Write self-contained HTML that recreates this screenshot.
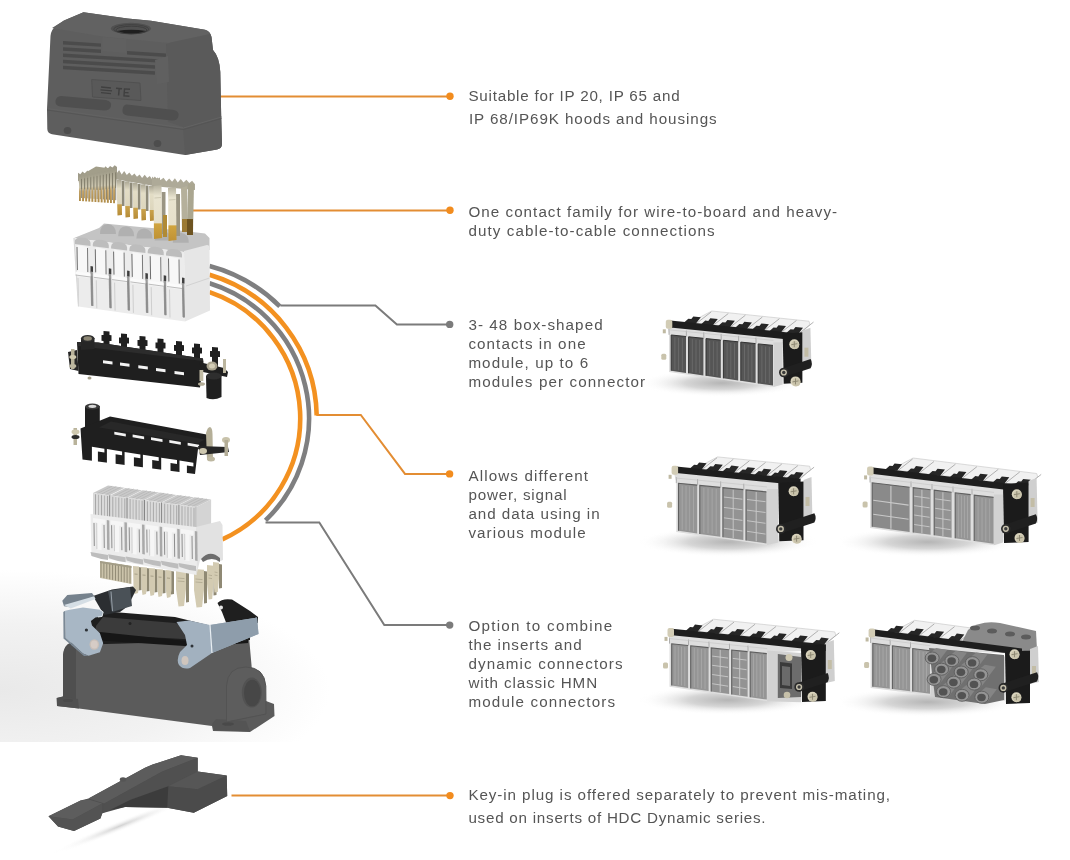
<!DOCTYPE html>
<html><head><meta charset="utf-8">
<style>
html,body{margin:0;padding:0;background:#fff;}
body{width:1070px;height:860px;overflow:hidden;position:relative;}
svg{position:absolute;left:0;top:0;will-change:transform;}
.t{font-family:"Liberation Sans",sans-serif;font-size:15.2px;fill:#555555;}
</style></head><body>
<svg width="1070" height="860" viewBox="0 0 1070 860">
<defs>
<radialGradient id="bgL" cx="0" cy="0" r="1" gradientUnits="userSpaceOnUse" gradientTransform="translate(0 690) scale(330 120)">
<stop offset="0" stop-color="#e9e9e9"/><stop offset="0.55" stop-color="#f2f2f2"/><stop offset="1" stop-color="#ffffff"/>
</radialGradient>
</defs>
<rect x="0" y="560" width="345" height="182" fill="url(#bgL)"/>

<!-- callout lines -->
<g fill="none" stroke-linejoin="miter">
<path d="M219 96.5H450" stroke="#e38d33" stroke-width="2"/>
<path d="M193 210.5H450" stroke="#e38d33" stroke-width="2"/>
<path d="M231.5 795.6H450" stroke="#e38d33" stroke-width="2"/>
<path d="M280.4 305.4H375.4L396.9 324.4H450" stroke="#7b7b7b" stroke-width="2"/>
<path d="M316.3 415H360.8L405 473.9H450" stroke="#e38d33" stroke-width="2"/>
<path d="M265.5 522.4H319.3L384.3 625.1H450" stroke="#7b7b7b" stroke-width="2"/>
</g>
<g>
<circle cx="450" cy="96.3" r="3.7" fill="#f28c1e"/>
<circle cx="450" cy="210.2" r="3.7" fill="#f28c1e"/>
<circle cx="450" cy="795.6" r="3.7" fill="#f28c1e"/>
<circle cx="449.7" cy="324.4" r="3.7" fill="#7b7b7b"/>
<circle cx="449.6" cy="473.9" r="3.7" fill="#f28c1e"/>
<circle cx="449.7" cy="625.1" r="3.7" fill="#7b7b7b"/>
</g>

<!-- arcs -->
<g fill="none" stroke-width="4.6">
<path d="M209.5 266 A158 158 0 0 1 279.8 306.3" stroke="#7f7f80"/>
<path d="M209.5 274.7 A149.7 149.7 0 0 1 316.7 415.5" stroke="#f39120"/>
<path d="M209.5 283.3 A141.4 141.4 0 0 1 265.5 520.4" stroke="#7f7f80"/>
<path d="M209.5 292.1 A133.1 133.1 0 0 1 222.3 539.4" stroke="#f39120"/>
</g>

<g id="hood">
<path d="M83.5 12.2 L127.5 18.5 L151 20.8 L205 29.8 Q210.5 31 211.5 37 L213 50 Q219.5 57 220.3 72 L221.2 116 L222 144 Q222 148.5 217 149.5 L185 155 L52 134.2 Q47.5 133.2 47.3 129 L47 109 L50.5 36 Q51 29.5 56 26 L64 20.5 Z" fill="#5e5e5e"/>
<path d="M166 44 L205 31.5 Q210.5 32 211.5 37 L213 50 Q219.5 57 220.3 72 L221.2 116 L222 144 Q222 148.5 217 149.5 L185 155 L183 127 L168 122 Z" fill="#5a5a5a"/>
<path d="M52 28 L64 20.5 L83.5 12.2 L127.5 18.5 L151 20.8 L205 29.8 Q209 31 210 34 L168 43 L102 36.5 Z" fill="#626262"/>
<path d="M47 108.5 L183.5 128 L221.5 117" fill="none" stroke="#636363" stroke-width="1"/>
<path d="M47 110 L183.5 129.5 L221.5 118.5" fill="none" stroke="#535353" stroke-width="0.8"/>
<ellipse cx="130.9" cy="28.5" rx="20" ry="5.8" fill="#505050"/>
<ellipse cx="131.2" cy="29.2" rx="17.5" ry="4.6" fill="none" stroke="#3f3f3f" stroke-width="0.9"/>
<ellipse cx="131.4" cy="30" rx="15.5" ry="3.8" fill="none" stroke="#3c3c3c" stroke-width="0.9"/>
<path d="M117 31 Q131 36 146 31 Q131 28.5 117 31 Z" fill="#1f1f1f"/>
<g fill="#4b4b4b">
<path d="M63 41.099999999999994 L101 43.4 L101 46.800000000000004 L63 44.5 Z"/>
<path d="M63 47.3 L101 49.599999999999994 L101 53.0 L63 50.7 Z"/>
<path d="M127 51.099999999999994 L166 53.5 L166 56.900000000000006 L127 54.5 Z"/>
<path d="M63 53.5 L166 59.699999999999996 L166 63.1 L63 56.900000000000006 Z"/>
<path d="M63 59.8 L155 65.3 L155 68.7 L63 63.2 Z"/>
<path d="M63 65.8 L155 71.3 L155 74.7 L63 69.2 Z"/>
</g>
<path d="M102.5 37 L126 39 L126.5 53 L102.5 51 Z" fill="#606060"/>
<path d="M155 60 L168 56 L169 82 L157 84 Z" fill="#606060"/>
<path d="M91.7 79.5 L140 83 L141 100.5 L92.5 97 Z" fill="#595959" stroke="#4e4e4e" stroke-width="0.8"/>
<path d="M101 87 L111 88 M100.5 89.8 L112 90.9 M101 92.6 L111 93.6" fill="none" stroke="#404040" stroke-width="1.3"/>
<path d="M116 88.2 L122 88.8 M119.2 88.5 L118.6 95.5" fill="none" stroke="#404040" stroke-width="1.5"/>
<path d="M130 89.3 L124.5 88.9 L124 95.8 L129.5 96.2 M124.3 92.4 L128.5 92.7" fill="none" stroke="#404040" stroke-width="1.4"/>
<path d="M61 96 L106 100 Q112 101.5 111 106 Q110 110.5 104 110.5 L60 106.5 Q55 105.5 55.5 101 Q56 96.5 61 96 Z" fill="#4f4f4f"/>
<path d="M127 104.5 L174 110 Q179.5 111.5 178.5 116 Q177.5 121 171.5 120.5 L127 115.5 Q122 114.5 122.5 110 Q123 104.5 127 104.5 Z" fill="#4f4f4f"/>
<ellipse cx="67.5" cy="130.5" rx="3.8" ry="3.5" fill="#4d4d4d"/>
<ellipse cx="157.5" cy="143.5" rx="3.8" ry="3.5" fill="#4d4d4d"/>
</g>

<g id="insert1">
<path d="M99 228 L104 223.5 L140 227 L176 230 L205 233.5 L209.5 238 L209.5 250 L184 252 L74 238 Z" fill="#c4c4c4"/>
<path d="M100.0 234.0 Q100.0 224.0 108.0 224.0 Q116.0 225.0 116.0 234.0 Z" fill="#b0b0b0"/>
<path d="M118.2 236.2 Q118.2 226.2 126.2 226.2 Q134.2 227.2 134.2 236.2 Z" fill="#b0b0b0"/>
<path d="M136.4 238.4 Q136.4 228.4 144.4 228.4 Q152.4 229.4 152.4 238.4 Z" fill="#b0b0b0"/>
<path d="M154.6 240.6 Q154.6 230.6 162.6 230.6 Q170.6 231.6 170.6 240.6 Z" fill="#b0b0b0"/>
<path d="M172.8 242.8 Q172.8 232.8 180.8 232.8 Q188.8 233.8 188.8 242.8 Z" fill="#b0b0b0"/>
<path d="M184 251 L207 245 Q209.5 245 209.5 248 L210 310.5 L185 321.5 Z" fill="#e6e6e6"/>
<path d="M186 286 L209.5 278" stroke="#d2d2d2" stroke-width="1"/>
<path d="M74 238 L184 252 L185 321.5 L78.5 306.5 Z" fill="#ececec"/>
<path d="M74.5 242.0 Q75.0 237.0 82.0 237.5 Q90.0 238.0 90.5 243.0 L90.5 246.0 L74.5 244.0 Z" fill="#bdbdbd"/>
<path d="M77.5 245.0 L77.8 271.0 L75.5 271.0 L75.7 276.0 L90.0 278.0 L90.0 273.0 L87.0 272.5 L87.0 247.0 Z" fill="#f7f7f7"/>
<path d="M77.0 247.0 L77.4 270.0" stroke="#6e6e6e" stroke-width="1"/>
<path d="M87.5 248.0 L87.8 272.0" stroke="#7a7a7a" stroke-width="1"/>
<path d="M90.3 271.0 L92.8 271.5 L93.5 306.0 L91.0 305.5 Z" fill="#9a9a9a"/>
<path d="M90.5 266.0 L93.0 266.5 L93.0 272.0 L90.5 271.5 Z" fill="#3f3f3f"/>
<path d="M78.0 278.0 L78.5 306.0" stroke="#cfcfcf" stroke-width="1"/>
<path d="M92.8 244.3 Q93.3 239.3 100.3 239.8 Q108.3 240.3 108.8 245.3 L108.8 248.3 L92.8 246.3 Z" fill="#bdbdbd"/>
<path d="M95.8 247.3 L96.1 273.3 L93.8 273.3 L94.0 278.3 L108.3 280.3 L108.3 275.3 L105.3 274.8 L105.3 249.3 Z" fill="#f7f7f7"/>
<path d="M95.3 249.3 L95.7 272.3" stroke="#6e6e6e" stroke-width="1"/>
<path d="M105.8 250.3 L106.1 274.3" stroke="#7a7a7a" stroke-width="1"/>
<path d="M108.6 273.3 L111.1 273.8 L111.8 308.3 L109.3 307.8 Z" fill="#9a9a9a"/>
<path d="M108.8 268.3 L111.3 268.8 L111.3 274.3 L108.8 273.8 Z" fill="#3f3f3f"/>
<path d="M96.3 280.3 L96.8 308.3" stroke="#cfcfcf" stroke-width="1"/>
<path d="M111.1 246.6 Q111.6 241.6 118.6 242.1 Q126.6 242.6 127.1 247.6 L127.1 250.6 L111.1 248.6 Z" fill="#bdbdbd"/>
<path d="M114.1 249.6 L114.39999999999999 275.6 L112.1 275.6 L112.3 280.6 L126.6 282.6 L126.6 277.6 L123.6 277.1 L123.6 251.6 Z" fill="#f7f7f7"/>
<path d="M113.6 251.6 L114.0 274.6" stroke="#6e6e6e" stroke-width="1"/>
<path d="M124.1 252.6 L124.39999999999999 276.6" stroke="#7a7a7a" stroke-width="1"/>
<path d="M126.89999999999999 275.6 L129.4 276.1 L130.1 310.6 L127.6 310.1 Z" fill="#9a9a9a"/>
<path d="M127.1 270.6 L129.6 271.1 L129.6 276.6 L127.1 276.1 Z" fill="#3f3f3f"/>
<path d="M114.6 282.6 L115.1 310.6" stroke="#cfcfcf" stroke-width="1"/>
<path d="M129.4 248.9 Q129.9 243.9 136.9 244.4 Q144.9 244.9 145.4 249.9 L145.4 252.9 L129.4 250.9 Z" fill="#bdbdbd"/>
<path d="M132.4 251.9 L132.70000000000002 277.9 L130.4 277.9 L130.6 282.9 L144.9 284.9 L144.9 279.9 L141.9 279.4 L141.9 253.9 Z" fill="#f7f7f7"/>
<path d="M131.9 253.9 L132.3 276.9" stroke="#6e6e6e" stroke-width="1"/>
<path d="M142.4 254.9 L142.70000000000002 278.9" stroke="#7a7a7a" stroke-width="1"/>
<path d="M145.20000000000002 277.9 L147.70000000000002 278.4 L148.4 312.9 L145.9 312.4 Z" fill="#9a9a9a"/>
<path d="M145.4 272.9 L147.9 273.4 L147.9 278.9 L145.4 278.4 Z" fill="#3f3f3f"/>
<path d="M132.9 284.9 L133.4 312.9" stroke="#cfcfcf" stroke-width="1"/>
<path d="M147.7 251.2 Q148.2 246.2 155.2 246.7 Q163.2 247.2 163.7 252.2 L163.7 255.2 L147.7 253.2 Z" fill="#bdbdbd"/>
<path d="M150.7 254.2 L151.0 280.2 L148.7 280.2 L148.89999999999998 285.2 L163.2 287.2 L163.2 282.2 L160.2 281.7 L160.2 256.2 Z" fill="#f7f7f7"/>
<path d="M150.2 256.2 L150.6 279.2" stroke="#6e6e6e" stroke-width="1"/>
<path d="M160.7 257.2 L161.0 281.2" stroke="#7a7a7a" stroke-width="1"/>
<path d="M163.5 280.2 L166.0 280.7 L166.7 315.2 L164.2 314.7 Z" fill="#9a9a9a"/>
<path d="M163.7 275.2 L166.2 275.7 L166.2 281.2 L163.7 280.7 Z" fill="#3f3f3f"/>
<path d="M151.2 287.2 L151.7 315.2" stroke="#cfcfcf" stroke-width="1"/>
<path d="M166.0 253.5 Q166.5 248.5 173.5 249.0 Q181.5 249.5 182.0 254.5 L182.0 257.5 L166.0 255.5 Z" fill="#bdbdbd"/>
<path d="M169.0 256.5 L169.3 282.5 L167.0 282.5 L167.2 287.5 L181.5 289.5 L181.5 284.5 L178.5 284.0 L178.5 258.5 Z" fill="#f7f7f7"/>
<path d="M168.5 258.5 L168.9 281.5" stroke="#6e6e6e" stroke-width="1"/>
<path d="M179.0 259.5 L179.3 283.5" stroke="#7a7a7a" stroke-width="1"/>
<path d="M181.8 282.5 L184.3 283.0 L185.0 317.5 L182.5 317.0 Z" fill="#9a9a9a"/>
<path d="M182.0 277.5 L184.5 278.0 L184.5 283.5 L182.0 283.0 Z" fill="#3f3f3f"/>
<path d="M169.5 289.5 L170.0 317.5" stroke="#cfcfcf" stroke-width="1"/>
<path d="M74 238 L78.5 306.5" stroke="#d9d9d9" stroke-width="1.2"/>
<path d="M75.5 271.5 L90.5 273.5 L90.5 276.5 L75.5 274.5 Z" fill="#fbfbfb"/>
<path d="M75.5 275.0 L90.5 277.0" stroke="#b5b5b5" stroke-width="0.9"/>
<path d="M91.6 276.0 L92.2 306.0" stroke="#8c8c8c" stroke-width="1.4"/>
<path d="M93.8 273.8 L108.8 275.8 L108.8 278.8 L93.8 276.8 Z" fill="#fbfbfb"/>
<path d="M93.8 277.3 L108.8 279.3" stroke="#b5b5b5" stroke-width="0.9"/>
<path d="M109.9 278.3 L110.5 308.3" stroke="#8c8c8c" stroke-width="1.4"/>
<path d="M112.1 276.1 L127.1 278.1 L127.1 281.1 L112.1 279.1 Z" fill="#fbfbfb"/>
<path d="M112.1 279.6 L127.1 281.6" stroke="#b5b5b5" stroke-width="0.9"/>
<path d="M128.2 280.6 L128.79999999999998 310.6" stroke="#8c8c8c" stroke-width="1.4"/>
<path d="M130.4 278.4 L145.4 280.4 L145.4 283.4 L130.4 281.4 Z" fill="#fbfbfb"/>
<path d="M130.4 281.9 L145.4 283.9" stroke="#b5b5b5" stroke-width="0.9"/>
<path d="M146.5 282.9 L147.1 312.9" stroke="#8c8c8c" stroke-width="1.4"/>
<path d="M148.7 280.7 L163.7 282.7 L163.7 285.7 L148.7 283.7 Z" fill="#fbfbfb"/>
<path d="M148.7 284.2 L163.7 286.2" stroke="#b5b5b5" stroke-width="0.9"/>
<path d="M164.79999999999998 285.2 L165.39999999999998 315.2" stroke="#8c8c8c" stroke-width="1.4"/>
<path d="M167.0 283.0 L182.0 285.0 L182.0 288.0 L167.0 286.0 Z" fill="#fbfbfb"/>
<path d="M167.0 286.5 L182.0 288.5" stroke="#b5b5b5" stroke-width="0.9"/>
<path d="M183.1 287.5 L183.7 317.5" stroke="#8c8c8c" stroke-width="1.4"/>
</g>
<g id="contacts1">
<defs>
<linearGradient id="pinS" x1="0" y1="0" x2="0" y2="1"><stop offset="0" stop-color="#9f9b88"/><stop offset="0.45" stop-color="#cdc7b0"/><stop offset="0.62" stop-color="#c0a064"/><stop offset="1" stop-color="#b08c48"/></linearGradient>
<linearGradient id="pinM" x1="0" y1="0" x2="0" y2="1"><stop offset="0" stop-color="#a9a593"/><stop offset="0.25" stop-color="#e3ddc6"/><stop offset="0.68" stop-color="#ddd6bd"/><stop offset="0.7" stop-color="#c9a14a"/><stop offset="1" stop-color="#b68c38"/></linearGradient>
<linearGradient id="pinL" x1="0" y1="0" x2="0" y2="1"><stop offset="0" stop-color="#b5b19e"/><stop offset="0.2" stop-color="#e9e4d0"/><stop offset="0.7" stop-color="#e6e0cb"/><stop offset="0.72" stop-color="#d0a43f"/><stop offset="1" stop-color="#bf9235"/></linearGradient>
</defs>
<path d="M114.0 169.6 L116.6 173.5 L119.1 170.1 L121.7 174.5 L124.2 171.1 L126.8 175.0 L129.3 172.6 L131.9 175.8 L134.4 173.5 L137.0 176.7 L139.6 174.4 L142.1 178.0 L144.7 174.8 L147.2 178.0 L149.8 176.1 L152.3 179.6 L154.9 176.4 L157.4 179.7 L160.0 177.3 L160.0 187.0 L114.0 179.0 Z" fill="#a7a392"/>
<path d="M152.0 176.5 L154.9 179.3 L157.7 177.5 L160.6 180.0 L163.5 177.7 L166.3 181.4 L169.2 178.5 L172.1 181.7 L174.9 178.2 L177.8 182.4 L180.7 179.0 L183.5 182.4 L186.4 179.8 L189.3 183.1 L192.1 180.7 L195.0 184.2 L195.0 190.0 L152.0 186.0 Z" fill="#aeaa98"/>
<path d="M78.0 172.8 L80.3 174.3 L82.6 171.5 L84.9 173.8 L87.2 170.4 L89.5 172.7 L91.8 169.8 L94.1 171.4 L96.4 168.4 L98.6 171.1 L100.9 167.6 L103.2 169.8 L105.5 166.3 L107.8 168.6 L110.1 166.1 L112.4 167.4 L114.7 165.3 L117.0 167.1 L117.0 173.0 L78.0 181.0 Z" fill="#9f9b89"/>
<path d="M78 177 L96 166.5 L117 169.5 L116 188 L100 190 L80 189 Z" fill="#a29e8a"/>
<rect x="79.0" y="176.0" width="1.9" height="25.0" fill="url(#pinS)"/>
<rect x="81.2" y="179.0" width="0.9" height="19.0" fill="#7c7866"/>
<rect x="82.1" y="175.4" width="1.9" height="25.8" fill="url(#pinS)"/>
<rect x="84.3" y="178.4" width="0.9" height="19.8" fill="#7c7866"/>
<rect x="85.2" y="174.8" width="1.9" height="26.6" fill="url(#pinS)"/>
<rect x="87.4" y="177.8" width="0.9" height="20.6" fill="#7c7866"/>
<rect x="88.3" y="174.2" width="1.9" height="27.4" fill="url(#pinS)"/>
<rect x="90.5" y="177.2" width="0.9" height="21.4" fill="#7c7866"/>
<rect x="91.4" y="173.6" width="1.9" height="28.2" fill="url(#pinS)"/>
<rect x="93.6" y="176.6" width="0.9" height="22.2" fill="#7c7866"/>
<rect x="94.5" y="173.0" width="1.9" height="29.0" fill="url(#pinS)"/>
<rect x="96.7" y="176.0" width="0.9" height="23.0" fill="#7c7866"/>
<rect x="97.6" y="172.4" width="1.9" height="29.8" fill="url(#pinS)"/>
<rect x="99.8" y="175.4" width="0.9" height="23.8" fill="#7c7866"/>
<rect x="100.7" y="171.8" width="1.9" height="30.6" fill="url(#pinS)"/>
<rect x="102.9" y="174.8" width="0.9" height="24.6" fill="#7c7866"/>
<rect x="103.8" y="171.2" width="1.9" height="31.4" fill="url(#pinS)"/>
<rect x="106.0" y="174.2" width="0.9" height="25.4" fill="#7c7866"/>
<rect x="106.9" y="170.6" width="1.9" height="32.2" fill="url(#pinS)"/>
<rect x="109.1" y="173.6" width="0.9" height="26.2" fill="#7c7866"/>
<rect x="110.0" y="170.0" width="1.9" height="33.0" fill="url(#pinS)"/>
<rect x="112.2" y="173.0" width="0.9" height="27.0" fill="#7c7866"/>
<rect x="113.1" y="169.4" width="1.9" height="33.8" fill="url(#pinS)"/>
<rect x="115.3" y="172.4" width="0.9" height="27.8" fill="#7c7866"/>
<rect x="121.5" y="181" width="3" height="25" fill="#8f8b7a"/>
<path d="M116.5 180 L121.5 179.5 L122 215 L117.5 215.5 Z" fill="url(#pinM)"/>
<rect x="129.5" y="182.5" width="3" height="25.5" fill="#8f8b7a"/>
<path d="M124.5 181.5 L129.5 181.0 L130 217 L125.5 217.5 Z" fill="url(#pinM)"/>
<rect x="137.5" y="184" width="3" height="25.5" fill="#8f8b7a"/>
<path d="M132.5 183 L137.5 182.5 L138 218.5 L133.5 219.0 Z" fill="url(#pinM)"/>
<rect x="145.5" y="185.5" width="3" height="25.5" fill="#8f8b7a"/>
<path d="M140.5 184.5 L145.5 184.0 L146 220 L141.5 220.5 Z" fill="url(#pinM)"/>
<rect x="154.0" y="187" width="3" height="24.5" fill="#8f8b7a"/>
<path d="M149.0 186 L154.0 185.5 L154.5 220.5 L150.0 221.0 Z" fill="url(#pinM)"/>
<path d="M181 188 L187 186 L188 230 L182 232 Z" fill="#b5b09b"/>
<rect x="182" y="219" width="6" height="13" fill="#9c7a33"/>
<path d="M188 184 L194 183 L193 234 L187 235 Z" fill="#aaa690"/>
<rect x="187" y="219" width="6" height="16" fill="#6e5421"/>
<rect x="161.5" y="192" width="4" height="42" fill="#9a9583"/>
<path d="M153.5 186 L161.5 185 L162.0 238 L154.0 239 Z" fill="url(#pinL)"/>
<path d="M154.5 198 L161.0 197.5" stroke="#c7c1ab" stroke-width="0.8"/>
<rect x="176" y="194" width="4" height="42" fill="#9a9583"/>
<path d="M168 188 L176 187 L176.5 240 L168.5 241 Z" fill="url(#pinL)"/>
<path d="M169 200 L175.5 199.5" stroke="#c7c1ab" stroke-width="0.8"/>
<rect x="163" y="215" width="4" height="22" fill="#b08a35"/>
</g>
<g id="frame1">
<path d="M103.5 331 L109.5 331.5 L109.5 335 L111.5 335.3 L111.5 341 L109.5 341 L109.5 357 L103.5 356 L103.5 341 L101.5 340.7 L101.5 335 L103.5 335 Z" fill="#1f1f1f"/>
<path d="M121 333.5 L127 334.0 L127 337.5 L129 337.8 L129 343.5 L127 343.5 L127 359.5 L121 358.5 L121 343.5 L119 343.2 L119 337.5 L121 337.5 Z" fill="#1f1f1f"/>
<path d="M139.5 336 L145.5 336.5 L145.5 340 L147.5 340.3 L147.5 346 L145.5 346 L145.5 362 L139.5 361 L139.5 346 L137.5 345.7 L137.5 340 L139.5 340 Z" fill="#1f1f1f"/>
<path d="M157.5 338.5 L163.5 339.0 L163.5 342.5 L165.5 342.8 L165.5 348.5 L163.5 348.5 L163.5 364.5 L157.5 363.5 L157.5 348.5 L155.5 348.2 L155.5 342.5 L157.5 342.5 Z" fill="#1f1f1f"/>
<path d="M176 341 L182 341.5 L182 345 L184 345.3 L184 351 L182 351 L182 367 L176 366 L176 351 L174 350.7 L174 345 L176 345 Z" fill="#1f1f1f"/>
<path d="M194 343.5 L200 344.0 L200 347.5 L202 347.8 L202 353.5 L200 353.5 L200 369.5 L194 368.5 L194 353.5 L192 353.2 L192 347.5 L194 347.5 Z" fill="#1f1f1f"/>
<path d="M212 347 L218 347.5 L218 351 L220 351.3 L220 357 L218 357 L218 373 L212 372 L212 357 L210 356.7 L210 351 L212 351 Z" fill="#1f1f1f"/>
<path d="M77 342 L98 342.5 L203 358.5 L203.5 362 L200 387.5 L78.5 374 Z" fill="#1f1f1f"/>
<path d="M77 342 L98 342.5 L203 358.5 L203 361 L78 346 Z" fill="#2c2c2c"/>
<path d="M103 360.3 L112.5 361.6 L112.5 364.6 L103 363.3 Z" fill="#f4f4f4"/>
<path d="M120 362.5 L129.5 363.8 L129.5 366.8 L120 365.5 Z" fill="#f4f4f4"/>
<path d="M138.3 365.2 L147.8 366.5 L147.8 369.5 L138.3 368.2 Z" fill="#f4f4f4"/>
<path d="M156 368 L165.5 369.3 L165.5 372.3 L156 371 Z" fill="#f4f4f4"/>
<path d="M174.5 371 L184.0 372.3 L184.0 375.3 L174.5 374 Z" fill="#f4f4f4"/>
<path d="M68 352 L77 350 L78.5 371 L70 369 Z" fill="#262626"/>
<rect x="71" y="349" width="3.5" height="20" fill="#b9b39b"/>
<ellipse cx="72.8" cy="357" rx="3.5" ry="2" fill="#cfc9b0"/>
<ellipse cx="72.8" cy="366" rx="3.5" ry="2" fill="#bdb7a0"/>
<path d="M81 339 L94.5 338 L94.5 349 L81 350 Z" fill="#262626"/><ellipse cx="87.7" cy="338.5" rx="6.8" ry="3.5" fill="#2e2e2e"/>
<ellipse cx="87.7" cy="338.5" rx="4.2" ry="2.2" fill="#8d8775"/>
<ellipse cx="89.5" cy="378" rx="2" ry="1.5" fill="#a59f8a"/>
<path d="M199 362 L224 368 L228 372 L227 377 L203 372 Z" fill="#1f1f1f"/>
<ellipse cx="212" cy="366" rx="5.5" ry="4.5" fill="#a8a28e"/>
<ellipse cx="212" cy="366" rx="3" ry="2.5" fill="#d3cdb6"/>
<path d="M206 376 L221.5 375 L221.5 397 Q214 401 206.5 398 Z" fill="#1f1f1f"/>
<ellipse cx="213.8" cy="376" rx="7.7" ry="3.5" fill="#2e2e2e"/>
<rect x="199.5" y="370" width="3.8" height="11" fill="#c2bca5"/>
<ellipse cx="201.5" cy="384" rx="3.5" ry="1.8" fill="#b3ad97"/>
<rect x="223" y="359" width="3" height="14" fill="#bbb59e"/>
</g>
<g id="frame2">
<path d="M85 407 L99.8 406 L99.8 428 L85 429 Z" fill="#1f1f1f"/>
<ellipse cx="92.4" cy="406.5" rx="7.4" ry="3" fill="#3a3a3a"/>
<ellipse cx="92.4" cy="406.3" rx="4" ry="1.6" fill="#d9d9d9"/>
<path d="M80.5 428.5 L110 416.5 L212 435.5 L212 446 L198 449 L195 474 L82.5 459.5 Z" fill="#1f1f1f"/>
<path d="M99 427.5 L111 421.5 L205 439.5 L197 443.5 Z" fill="#282828"/>
<path d="M114.3 431.8 L125.8 433.8 L125.8 436.6 L114.3 434.6 Z" fill="#f2f2f2"/>
<path d="M132.6 434.5 L144.1 436.5 L144.1 439.3 L132.6 437.3 Z" fill="#f2f2f2"/>
<path d="M151 437.3 L162.5 439.3 L162.5 442.1 L151 440.1 Z" fill="#f2f2f2"/>
<path d="M169.3 440 L180.8 442 L180.8 444.8 L169.3 442.8 Z" fill="#f2f2f2"/>
<path d="M187.6 442.8 L199.1 444.8 L199.1 447.6 L187.6 445.6 Z" fill="#f2f2f2"/>
<path d="M91.9 446.8 L104.4 448.7 L104.4 452.5 L97.9 451.5 L97.9 464.8 L91.9 464.8 Z" fill="#ffffff"/>
<path d="M106.9 449.1 L122.1 451.5 L122.1 455.3 L115.6 454.3 L115.6 467.1 L106.9 467.1 Z" fill="#ffffff"/>
<path d="M124.6 451.9 L140.4 454.4 L140.4 458.2 L133.9 457.2 L133.9 469.9 L124.6 469.9 Z" fill="#ffffff"/>
<path d="M142.9 454.8 L158.7 457.3 L158.7 461.1 L152.2 460.1 L152.2 472.8 L142.9 472.8 Z" fill="#ffffff"/>
<path d="M161.2 457.7 L177.0 460.1 L177.0 463.9 L170.5 462.9 L170.5 475.7 L161.2 475.7 Z" fill="#ffffff"/>
<path d="M179.5 460.5 L193.4 462.7 L193.4 466.5 L186.9 465.5 L186.9 478.5 L179.5 478.5 Z" fill="#ffffff"/>
<rect x="73.5" y="428" width="3.5" height="17" fill="#b9b39b"/>
<ellipse cx="75.5" cy="432" rx="4" ry="2.4" fill="#cfc9b0"/>
<ellipse cx="75.5" cy="437" rx="4" ry="2" fill="#2b2b2b"/>
<path d="M206 433 Q207.5 427 210 427 Q212.5 428 212.5 434 L213 460 L207 460 Z" fill="#b5af98"/>
<path d="M198 446 L228 447 L229 452 L200 455 Z" fill="#262626"/>
<ellipse cx="226" cy="440" rx="4" ry="3" fill="#c8c2aa"/>
<rect x="224.5" y="440" width="3.5" height="16" fill="#b3ad97"/>
<ellipse cx="203" cy="451" rx="4" ry="3" fill="#cdc7af"/>
<ellipse cx="211" cy="459" rx="4" ry="2.5" fill="#bdb7a0"/>
</g>
<g id="contacts2">
<path d="M100 561 L131.5 566 L131.5 584 L100 578 Z" fill="#cbc3aa"/>
<path d="M101.0 561.5 V577.5" stroke="#8c8670" stroke-width="0.9"/>
<path d="M103.9 562.0 V578.1" stroke="#8c8670" stroke-width="0.9"/>
<path d="M106.8 562.4 V578.7" stroke="#8c8670" stroke-width="0.9"/>
<path d="M109.7 562.9 V579.3" stroke="#8c8670" stroke-width="0.9"/>
<path d="M112.6 563.3 V579.9" stroke="#8c8670" stroke-width="0.9"/>
<path d="M115.5 563.8 V580.5" stroke="#8c8670" stroke-width="0.9"/>
<path d="M118.4 564.2 V581.1" stroke="#8c8670" stroke-width="0.9"/>
<path d="M121.3 564.6 V581.7" stroke="#8c8670" stroke-width="0.9"/>
<path d="M124.2 565.1 V582.3" stroke="#8c8670" stroke-width="0.9"/>
<path d="M127.1 565.5 V582.9" stroke="#8c8670" stroke-width="0.9"/>
<path d="M130.0 566.0 V583.5" stroke="#8c8670" stroke-width="0.9"/>
<path d="M100 561 L131.5 566 L131.5 568 L100 563 Z" fill="#a39d87"/>
<path d="M138.5 567.0 L141.5 567.5 L141.5 590.0 L138.5 590.5 Z" fill="#8e8873"/>
<path d="M133 566.0 L139 566.5 L139 586.0 L138 593.0 L134.5 594.0 L133.5 587.0 Z" fill="#d2cab1"/>
<path d="M134.5 574.0 L137.5 574.3" stroke="#a8a189" stroke-width="1"/>
<path d="M146.5 568.0 L149.5 568.5 L149.5 591.0 L146.5 591.5 Z" fill="#8e8873"/>
<path d="M141 567.0 L147 567.5 L147 587.0 L146 594.0 L142.5 595.0 L141.5 588.0 Z" fill="#d2cab1"/>
<path d="M142.5 575.0 L145.5 575.3" stroke="#a8a189" stroke-width="1"/>
<path d="M154.5 569.0 L157.5 569.5 L157.5 592.0 L154.5 592.5 Z" fill="#8e8873"/>
<path d="M149 568.0 L155 568.5 L155 588.0 L154 595.0 L150.5 596.0 L149.5 589.0 Z" fill="#d2cab1"/>
<path d="M150.5 576.0 L153.5 576.3" stroke="#a8a189" stroke-width="1"/>
<path d="M162.5 570.0 L165.5 570.5 L165.5 593.0 L162.5 593.5 Z" fill="#8e8873"/>
<path d="M157 569.0 L163 569.5 L163 589.0 L162 596.0 L158.5 597.0 L157.5 590.0 Z" fill="#d2cab1"/>
<path d="M158.5 577.0 L161.5 577.3" stroke="#a8a189" stroke-width="1"/>
<path d="M171.0 571.0 L174.0 571.5 L174.0 594.0 L171.0 594.5 Z" fill="#8e8873"/>
<path d="M165.5 570.0 L171.5 570.5 L171.5 590.0 L170.5 597.0 L167.0 598.0 L166.0 591.0 Z" fill="#d2cab1"/>
<path d="M167.0 578.0 L170.0 578.3" stroke="#a8a189" stroke-width="1"/>
<path d="M186 570 L189 570.5 L189 602 L186 602.5 Z" fill="#8f8974"/>
<path d="M176 568 L186 568.8 L186 588.9 L184.0 606 L178.5 606.5 L176 588.9 Z" fill="#d3cbb2"/>
<path d="M177.5 578 L184.5 578.6 M177.5 581 L184.5 581.6" stroke="#aea78f" stroke-width="0.8"/>
<path d="M204 571 L207 571.5 L207 603 L204 603.5 Z" fill="#8f8974"/>
<path d="M194 569 L204 569.8 L204 589.9 L202.0 607 L196.5 607.5 L194 589.9 Z" fill="#d3cbb2"/>
<path d="M195.5 579 L202.5 579.6 M195.5 582 L202.5 582.6" stroke="#aea78f" stroke-width="0.8"/>
<path d="M213.5 567 L216.5 567.5 L216.5 595 L213.5 595.5 Z" fill="#8f8974"/>
<path d="M207 565 L213.5 565.8 L213.5 583.7 L212.2 599 L208.625 599.5 L207 583.7 Z" fill="#d3cbb2"/>
<path d="M208.5 575 L212.0 575.6 M208.5 578 L212.0 578.6" stroke="#aea78f" stroke-width="0.8"/>
<path d="M219 564 L222 564.5 L222 588 L219 588.5 Z" fill="#8f8974"/>
<path d="M213 562 L219 562.8 L219 578.5 L217.8 592 L214.5 592.5 L213 578.5 Z" fill="#d3cbb2"/>
<path d="M214.5 572 L217.5 572.6 M214.5 575 L217.5 575.6" stroke="#aea78f" stroke-width="0.8"/>
</g>
<g id="insert2">
<path d="M93.0 493.0 L108.0 485.5 L124.6 487.8 L109.6 495.3 Z" fill="#c9c9c9"/>
<path d="M97.2 493.6 L112.2 486.1" stroke="#b5b5b5" stroke-width="0.7"/>
<path d="M101.3 494.1 L116.3 486.6" stroke="#b5b5b5" stroke-width="0.7"/>
<path d="M105.5 494.7 L120.5 487.2" stroke="#b5b5b5" stroke-width="0.7"/>
<path d="M93.0 493.0 L109.6 495.3 L109.6 519.3 L93.0 517.0 Z" fill="#dadada"/>
<path d="M95.5 494.3 V516.3" stroke="#a8a8a8" stroke-width="1.0"/>
<path d="M98.5 494.8 V516.8" stroke="#a8a8a8" stroke-width="0.7"/>
<path d="M101.5 495.2 V517.2" stroke="#a8a8a8" stroke-width="1.0"/>
<path d="M104.5 495.6 V517.6" stroke="#a8a8a8" stroke-width="0.7"/>
<path d="M107.5 496.0 V518.0" stroke="#a8a8a8" stroke-width="1.0"/>
<path d="M109.9 495.3 V519.3" stroke="#7c7c7c" stroke-width="1.3"/>
<path d="M110.3 495.4 L125.3 487.9 L141.9 490.2 L126.9 497.7 Z" fill="#c9c9c9"/>
<path d="M114.5 495.9 L129.4 488.4" stroke="#b5b5b5" stroke-width="0.7"/>
<path d="M118.6 496.5 L133.6 489.0" stroke="#b5b5b5" stroke-width="0.7"/>
<path d="M122.8 497.1 L137.8 489.6" stroke="#b5b5b5" stroke-width="0.7"/>
<path d="M110.3 495.4 L126.9 497.7 L126.9 521.7 L110.3 519.4 Z" fill="#dadada"/>
<path d="M112.8 496.7 V518.7" stroke="#a8a8a8" stroke-width="1.0"/>
<path d="M115.8 497.1 V519.1" stroke="#a8a8a8" stroke-width="0.7"/>
<path d="M118.8 497.5 V519.5" stroke="#a8a8a8" stroke-width="1.0"/>
<path d="M121.8 497.9 V519.9" stroke="#a8a8a8" stroke-width="0.7"/>
<path d="M124.8 498.4 V520.4" stroke="#a8a8a8" stroke-width="1.0"/>
<path d="M127.2 497.7 V521.7" stroke="#7c7c7c" stroke-width="1.3"/>
<path d="M127.6 497.7 L142.6 490.2 L159.2 492.5 L144.2 500.0 Z" fill="#c9c9c9"/>
<path d="M131.8 498.3 L146.8 490.8" stroke="#b5b5b5" stroke-width="0.7"/>
<path d="M135.9 498.8 L150.9 491.3" stroke="#b5b5b5" stroke-width="0.7"/>
<path d="M140.0 499.4 L155.0 491.9" stroke="#b5b5b5" stroke-width="0.7"/>
<path d="M127.6 497.7 L144.2 500.0 L144.2 524.0 L127.6 521.7 Z" fill="#dadada"/>
<path d="M130.1 499.0 V521.0" stroke="#a8a8a8" stroke-width="1.0"/>
<path d="M133.1 499.5 V521.5" stroke="#a8a8a8" stroke-width="0.7"/>
<path d="M136.1 499.9 V521.9" stroke="#a8a8a8" stroke-width="1.0"/>
<path d="M139.1 500.3 V522.3" stroke="#a8a8a8" stroke-width="0.7"/>
<path d="M142.1 500.7 V522.7" stroke="#a8a8a8" stroke-width="1.0"/>
<path d="M144.5 500.0 V524.0" stroke="#7c7c7c" stroke-width="1.3"/>
<path d="M144.9 500.1 L159.9 492.6 L176.5 494.9 L161.5 502.4 Z" fill="#c9c9c9"/>
<path d="M149.1 500.6 L164.1 493.1" stroke="#b5b5b5" stroke-width="0.7"/>
<path d="M153.2 501.2 L168.2 493.7" stroke="#b5b5b5" stroke-width="0.7"/>
<path d="M157.3 501.8 L172.3 494.3" stroke="#b5b5b5" stroke-width="0.7"/>
<path d="M144.9 500.1 L161.5 502.4 L161.5 526.4 L144.9 524.0 Z" fill="#dadada"/>
<path d="M147.4 501.4 V523.4" stroke="#a8a8a8" stroke-width="1.0"/>
<path d="M150.4 501.8 V523.8" stroke="#a8a8a8" stroke-width="0.7"/>
<path d="M153.4 502.2 V524.2" stroke="#a8a8a8" stroke-width="1.0"/>
<path d="M156.4 502.6 V524.6" stroke="#a8a8a8" stroke-width="0.7"/>
<path d="M159.4 503.1 V525.1" stroke="#a8a8a8" stroke-width="1.0"/>
<path d="M161.8 502.4 V526.4" stroke="#7c7c7c" stroke-width="1.3"/>
<path d="M162.2 502.4 L177.2 494.9 L193.8 497.2 L178.8 504.7 Z" fill="#c9c9c9"/>
<path d="M166.3 503.0 L181.3 495.5" stroke="#b5b5b5" stroke-width="0.7"/>
<path d="M170.5 503.5 L185.5 496.0" stroke="#b5b5b5" stroke-width="0.7"/>
<path d="M174.6 504.1 L189.6 496.6" stroke="#b5b5b5" stroke-width="0.7"/>
<path d="M162.2 502.4 L178.8 504.7 L178.8 528.7 L162.2 526.4 Z" fill="#dadada"/>
<path d="M164.7 503.7 V525.7" stroke="#a8a8a8" stroke-width="1.0"/>
<path d="M167.7 504.2 V526.2" stroke="#a8a8a8" stroke-width="0.7"/>
<path d="M170.7 504.6 V526.6" stroke="#a8a8a8" stroke-width="1.0"/>
<path d="M173.7 505.0 V527.0" stroke="#a8a8a8" stroke-width="0.7"/>
<path d="M176.7 505.4 V527.4" stroke="#a8a8a8" stroke-width="1.0"/>
<path d="M179.1 504.7 V528.7" stroke="#7c7c7c" stroke-width="1.3"/>
<path d="M179.5 504.8 L194.5 497.2 L211.1 499.6 L196.1 507.1 Z" fill="#c9c9c9"/>
<path d="M183.7 505.3 L198.7 497.8" stroke="#b5b5b5" stroke-width="0.7"/>
<path d="M187.8 505.9 L202.8 498.4" stroke="#b5b5b5" stroke-width="0.7"/>
<path d="M191.9 506.5 L206.9 499.0" stroke="#b5b5b5" stroke-width="0.7"/>
<path d="M179.5 504.8 L196.1 507.1 L196.1 531.0 L179.5 528.8 Z" fill="#dadada"/>
<path d="M182.0 506.1 V528.1" stroke="#a8a8a8" stroke-width="1.0"/>
<path d="M185.0 506.5 V528.5" stroke="#a8a8a8" stroke-width="0.7"/>
<path d="M188.0 506.9 V528.9" stroke="#a8a8a8" stroke-width="1.0"/>
<path d="M191.0 507.3 V529.3" stroke="#a8a8a8" stroke-width="0.7"/>
<path d="M194.0 507.8 V529.8" stroke="#a8a8a8" stroke-width="1.0"/>
<path d="M196.4 507.1 V531.0" stroke="#7c7c7c" stroke-width="1.3"/>
<path d="M196.1 507.1 L211.1 499.6 L211.1 525.5 L196.1 531.0 Z" fill="#d4d4d4"/>
<path d="M90.5 514 L196 527 L196.5 575 L91.5 556 Z" fill="#ececec"/>
<path d="M196 527 L220 521 L222.5 525 L223 560 L218 562 Q214 554 206 557 L200 560 L196.5 575 Z" fill="#e2e2e2"/>
<path d="M201 559 Q210 549 220 558 L220 562 Q212 556 203 562 Z" fill="#6d6d6d"/>
<path d="M90.5 552.0 L108.0 555.0 L108.0 560.0 Q99.5 559.0 91.5 556.0 Z" fill="#bdbdbd"/>
<path d="M93.0 518.0 L105.5 519.8 L105.5 524.0 L101.5 523.5 L101.5 550.0 L97.0 549.5 L97.0 522.5 L93.0 522.0 Z" fill="#f6f6f6"/>
<path d="M94.0 523.0 L94.3 546.0" stroke="#8e8e8e" stroke-width="1"/>
<path d="M104.0 525.0 L104.3 548.0" stroke="#8e8e8e" stroke-width="1"/>
<path d="M106.8 520.0 L109.3 520.4 L109.6 550.0 L107.1 549.6 Z" fill="#a9a9a9"/>
<path d="M96.7 523.0 L96.9 549.0" stroke="#c6c6c6" stroke-width="0.8"/>
<path d="M108.1 554.2 L125.6 557.2 L125.6 562.2 Q117.1 561.2 109.1 558.2 Z" fill="#bdbdbd"/>
<path d="M110.6 520.2 L123.1 522.0 L123.1 526.2 L119.1 525.7 L119.1 552.2 L114.6 551.7 L114.6 524.7 L110.6 524.2 Z" fill="#f6f6f6"/>
<path d="M111.6 525.2 L111.89999999999999 548.2" stroke="#8e8e8e" stroke-width="1"/>
<path d="M121.6 527.2 L121.89999999999999 550.2" stroke="#8e8e8e" stroke-width="1"/>
<path d="M124.39999999999999 522.2 L126.89999999999999 522.6 L127.19999999999999 552.2 L124.69999999999999 551.8000000000001 Z" fill="#a9a9a9"/>
<path d="M114.3 525.2 L114.5 551.2" stroke="#c6c6c6" stroke-width="0.8"/>
<path d="M125.7 556.4 L143.2 559.4 L143.2 564.4 Q134.7 563.4 126.7 560.4 Z" fill="#bdbdbd"/>
<path d="M128.2 522.4 L140.7 524.1999999999999 L140.7 528.4 L136.7 527.9 L136.7 554.4 L132.2 553.9 L132.2 526.9 L128.2 526.4 Z" fill="#f6f6f6"/>
<path d="M129.2 527.4 L129.5 550.4" stroke="#8e8e8e" stroke-width="1"/>
<path d="M139.2 529.4 L139.5 552.4" stroke="#8e8e8e" stroke-width="1"/>
<path d="M142.0 524.4 L144.5 524.8 L144.8 554.4 L142.3 554.0 Z" fill="#a9a9a9"/>
<path d="M131.9 527.4 L132.1 553.4" stroke="#c6c6c6" stroke-width="0.8"/>
<path d="M143.3 558.6 L160.8 561.6 L160.8 566.6 Q152.3 565.6 144.3 562.6 Z" fill="#bdbdbd"/>
<path d="M145.8 524.6 L158.3 526.4 L158.3 530.6 L154.3 530.1 L154.3 556.6 L149.8 556.1 L149.8 529.1 L145.8 528.6 Z" fill="#f6f6f6"/>
<path d="M146.8 529.6 L147.10000000000002 552.6" stroke="#8e8e8e" stroke-width="1"/>
<path d="M156.8 531.6 L157.10000000000002 554.6" stroke="#8e8e8e" stroke-width="1"/>
<path d="M159.60000000000002 526.6 L162.10000000000002 527.0 L162.4 556.6 L159.9 556.2 Z" fill="#a9a9a9"/>
<path d="M149.5 529.6 L149.70000000000002 555.6" stroke="#c6c6c6" stroke-width="0.8"/>
<path d="M160.9 560.8 L178.4 563.8 L178.4 568.8 Q169.9 567.8 161.9 564.8 Z" fill="#bdbdbd"/>
<path d="M163.4 526.8 L175.9 528.5999999999999 L175.9 532.8 L171.9 532.3 L171.9 558.8 L167.4 558.3 L167.4 531.3 L163.4 530.8 Z" fill="#f6f6f6"/>
<path d="M164.4 531.8 L164.70000000000002 554.8" stroke="#8e8e8e" stroke-width="1"/>
<path d="M174.4 533.8 L174.70000000000002 556.8" stroke="#8e8e8e" stroke-width="1"/>
<path d="M177.20000000000002 528.8 L179.70000000000002 529.1999999999999 L180.0 558.8 L177.5 558.4 Z" fill="#a9a9a9"/>
<path d="M167.1 531.8 L167.3 557.8" stroke="#c6c6c6" stroke-width="0.8"/>
<path d="M178.5 563.0 L196.0 566.0 L196.0 571.0 Q187.5 570.0 179.5 567.0 Z" fill="#bdbdbd"/>
<path d="M181.0 529.0 L193.5 530.8 L193.5 535.0 L189.5 534.5 L189.5 561.0 L185.0 560.5 L185.0 533.5 L181.0 533.0 Z" fill="#f6f6f6"/>
<path d="M182.0 534.0 L182.3 557.0" stroke="#8e8e8e" stroke-width="1"/>
<path d="M192.0 536.0 L192.3 559.0" stroke="#8e8e8e" stroke-width="1"/>
<path d="M194.8 531.0 L197.3 531.4 L197.6 561.0 L195.1 560.6 Z" fill="#a9a9a9"/>
<path d="M184.7 534.0 L184.9 560.0" stroke="#c6c6c6" stroke-width="0.8"/>
</g>
<g id="base">
<path d="M70 643 L249 637 L251.6 666 L252 702 L266 701 L274 704 L274.5 716 L250 732 L213 731 L212 726 L79 708.5 L57 706 L56.5 698 L63 696.5 L63 655 Q64 645 70 643 Z" fill="#5b5b5b"/>
<path d="M63 655 Q64 645 72 642 L76 645 L76 700 L63 698 Z" fill="#4f4f4f"/>
<path d="M57 698 L63 696.5 L78 699 L79 708.5 L57 706 Z" fill="#505050"/>
<ellipse cx="68" cy="700.5" rx="5" ry="1.5" fill="#4a4a4a"/>
<path d="M212 724 L216 719 L246 721 L250 731.5 L214 730 Z" fill="#545454"/>
<ellipse cx="228" cy="724" rx="6" ry="1.8" fill="#494949"/>
<path d="M226.5 722 L226.5 686 Q227.5 667 246 667 Q264.5 667.5 265.8 686 L266 714 Z" fill="#5d5d5d" stroke="#535353" stroke-width="1"/>
<ellipse cx="251.8" cy="692.6" rx="10" ry="15" fill="#525252"/>
<ellipse cx="252.3" cy="693" rx="8.3" ry="13.3" fill="#474747"/>

<path d="M86 622 L101 611 L175 617 L232 631 L250 635 L250 640 L70 645 L80 630 Z" fill="#1e1e1e"/>
<path d="M96 626 L103 617 L175 623 L232 637 L200 640 L95 634 Z" fill="#3b3b3b"/>
<path d="M100 632 L205 643 L248 640 L248 643 L200 647 L92 640 Z" fill="#161616"/>
<circle cx="130" cy="623.5" r="1.5" fill="#222"/>
<path d="M93 596 L112 589.5 L133 586.5 L136 590 L128 606 L120 612 L104 615 Z" fill="#2b2e31"/>
<path d="M108 591 L130 587 L132 606 L112 612 Z" fill="#4a5157"/>
<path d="M111 591.5 L112.5 611" stroke="#aab4bc" stroke-width="0.8"/>
<path d="M62.3 600.7 L67.3 595.1 L92 592.9 L94.3 596.2 L70.7 606.9 L64 606.3 Z" fill="#76828d"/>
<path d="M64 605 L94.3 596.2 L95.5 599 L70.7 608.5 Z" fill="#d5dee5"/>
<path d="M65.1 610.8 L69.6 609.7 L83 607.4 L99.9 609.7 L103.2 611.9 L102.1 616.4 L95.4 617.5 L90.9 620.9 L92 625.4 L99.9 633.2 L103.2 643.3 L99.9 652.3 L88.6 655.7 L83 653.4 L65.7 637.7 Z" fill="#a8b7c5"/>
<path d="M65.1 610.8 L65.7 637.7 L83 653.4 L88.6 655.7 L84 656 L63.5 638.5 L63.3 612 Z" fill="#7b8996"/>
<path d="M99.9 609.7 L103.2 611.9 L102.1 616.4 L98 617" fill="none" stroke="#e9eff3" stroke-width="0.9"/>
<circle cx="86.4" cy="630" r="1.6" fill="#2e3338"/>
<ellipse cx="94.3" cy="644.5" rx="4.8" ry="5.2" fill="#c9bfb8"/>
<ellipse cx="94.3" cy="644.5" rx="3.5" ry="4" fill="#d6ccc6"/>
<path d="M217.5 603 Q222 598 232 599.5 L250 611 L258 617 L258 623 L227 625 L222 612 Z" fill="#1f1f1f"/>
<circle cx="221" cy="607.5" r="2" fill="#e6e6e6"/>
<path d="M176.5 622 L189 620.5 L210 625 L257 617.5 L258.5 634 L212 653 L190 668 Q183 670 179 665 Q176 660 180 652 L187 645 L185 635 Z" fill="#a2b1bf"/>
<path d="M210 625 L257 617.5 L258.5 634 L212 653 Z" fill="#8e9dab"/>
<path d="M210 625 L212 653" stroke="#e8eef2" stroke-width="1.2"/>
<circle cx="192" cy="646" r="1.5" fill="#2e3338"/>
<ellipse cx="185" cy="660.5" rx="3.5" ry="4.5" fill="#cfc5bd"/>
</g>
<g id="key">
<defs><radialGradient id="keysh" cx="0" cy="0" r="1" gradientUnits="userSpaceOnUse" gradientTransform="translate(120 826) rotate(-22) scale(72 5.5)"><stop offset="0" stop-color="#d2d2d2"/><stop offset="1" stop-color="#ffffff" stop-opacity="0"/></radialGradient></defs>
<rect x="30" y="780" width="190" height="75" fill="url(#keysh)"/>
<path d="M48.5 816.2 L80.6 800.4 L88.5 798.4 L145 767.8 L152.6 764.6 L181 755.3 L197.7 757.8 L197.7 771.5 L226.7 775.4 L227.2 796 L193.8 812.7 L167.3 807.8 L125 807 L102.3 813.2 L100.4 818.4 L74 831 L58 826.5 Z" fill="#4f4f4f"/>
<path d="M48.5 816.2 L80.6 800.4 L88.5 799.5 L102.3 803.4 L72.7 819.5 Z" fill="#5d5d5d"/>
<path d="M48.5 816.2 L72.7 819.5 L102.3 803.4 L102.3 813.2 L100.4 818.4 L74 831 L58 826.5 Z" fill="#535353"/>
<path d="M88.5 798.4 L145 767.8 L152.6 764.6 L181 755.3 L197.7 757.8 L170 768.5 L161.4 772 L104.3 803.4 Z" fill="#5c5c5c"/>
<path d="M104.3 803.4 L161.4 772 L170 768.5 L197.7 757.8 L197.7 771.5 L168.3 786.2 L130 800 L102.3 813.2 Z" fill="#505050"/>
<path d="M168.3 786.2 L197.7 771.5 L226.7 775.4 L197.7 789.2 Z" fill="#565656"/>
<path d="M168.3 786.2 L197.7 789.2 L226.7 775.4 L227.2 796 L193.8 812.7 L167.3 807.8 Z" fill="#4b4b4b"/>
<path d="M130 800 L168.3 786.2 L167.3 807.8 L125 807 L110 810 Z" fill="#3c3c3c"/>
<ellipse cx="123" cy="779.5" rx="3.2" ry="2.2" fill="#555555"/>
</g>
<g id="modules">
<defs><radialGradient id="modsh" cx="0.5" cy="0.5" r="0.5"><stop offset="0" stop-color="#b5b5b5"/><stop offset="0.45" stop-color="#d6d6d6"/><stop offset="1" stop-color="#ffffff" stop-opacity="0"/></radialGradient></defs>
<ellipse cx="722" cy="383" rx="82" ry="14" fill="url(#modsh)"/>
<path d="M689.8 322.5 L711.8 311.0 L809.0 321.2 L810.0 324.7 L800.0 333.7 Z" fill="#f1f1f1" stroke="#c4c4c4" stroke-width="0.6"/>
<path d="M683.8 322.8 L695.8 323.8 L700.8 317.3 L693.3 316.5 L691.3 319.1 L688.3 318.8 Z" fill="#262626"/>
<path d="M697.3 322.8 L711.3 311.8" stroke="#a9a9a9" stroke-width="0.9"/>
<path d="M700.8 324.6 L712.8 325.6 L717.8 319.1 L710.3 318.3 L708.3 320.9 L705.3 320.6 Z" fill="#262626"/>
<path d="M714.3 324.5 L728.3 313.5" stroke="#a9a9a9" stroke-width="0.9"/>
<path d="M717.9 326.3 L729.9 327.3 L734.9 320.8 L727.4 320.0 L725.4 322.6 L722.4 322.3 Z" fill="#262626"/>
<path d="M731.4 326.2 L745.4 315.2" stroke="#a9a9a9" stroke-width="0.9"/>
<path d="M734.9 328.0 L746.9 329.0 L751.9 322.5 L744.4 321.7 L742.4 324.3 L739.4 324.0 Z" fill="#262626"/>
<path d="M748.4 328.0 L762.4 317.0" stroke="#a9a9a9" stroke-width="0.9"/>
<path d="M751.9 329.7 L763.9 330.7 L768.9 324.2 L761.4 323.4 L759.4 326.0 L756.4 325.7 Z" fill="#262626"/>
<path d="M765.4 329.7 L779.4 318.7" stroke="#a9a9a9" stroke-width="0.9"/>
<path d="M769.0 331.5 L781.0 332.5 L786.0 326.0 L778.5 325.2 L776.5 327.8 L773.5 327.5 Z" fill="#262626"/>
<path d="M782.5 331.4 L796.5 320.4" stroke="#a9a9a9" stroke-width="0.9"/>
<path d="M786.0 333.2 L798.0 334.2 L803.0 327.7 L795.5 326.9 L793.5 329.5 L790.5 329.2 Z" fill="#262626"/>
<path d="M799.5 333.1 L813.5 322.1" stroke="#a9a9a9" stroke-width="0.9"/>
<path d="M667.8 326.3 L800.0 339.7 L773.4 344.4 L773.4 387.1 L669.0 371.9 L669.0 333.8 Z" fill="#dedede"/>
<path d="M671.2 335.0 L686.0 336.5 L686.0 372.9 L671.2 370.7 Z" fill="#555555"/>
<path d="M674.9 337.4 V369.8" stroke="#6f6f6f" stroke-width="0.8"/>
<path d="M678.6 337.8 V370.3" stroke="#6f6f6f" stroke-width="0.8"/>
<path d="M682.3 338.2 V370.9" stroke="#6f6f6f" stroke-width="0.8"/>
<path d="M671.2 370.7 L671.2 335.0 L686.0 336.5" fill="none" stroke="#333" stroke-width="1"/>
<path d="M669.0 328.8 L669.0 334.8" stroke="#a0a0a0" stroke-width="0.8"/>
<path d="M669.0 329.8 L686.4 331.6" stroke="#cacaca" stroke-width="0.8"/>
<path d="M688.6 336.8 L703.4 338.3 L703.4 375.4 L688.6 373.3 Z" fill="#555555"/>
<path d="M692.3 339.2 V372.3" stroke="#6f6f6f" stroke-width="0.8"/>
<path d="M696.0 339.6 V372.8" stroke="#6f6f6f" stroke-width="0.8"/>
<path d="M699.7 339.9 V373.4" stroke="#6f6f6f" stroke-width="0.8"/>
<path d="M688.6 373.3 L688.6 336.8 L703.4 338.3" fill="none" stroke="#333" stroke-width="1"/>
<path d="M686.4 330.6 L686.4 336.6" stroke="#a0a0a0" stroke-width="0.8"/>
<path d="M686.4 331.6 L703.8 333.3" stroke="#cacaca" stroke-width="0.8"/>
<path d="M706.0 338.6 L720.8 340.1 L720.8 377.9 L706.0 375.8 Z" fill="#555555"/>
<path d="M709.7 340.9 V374.8" stroke="#6f6f6f" stroke-width="0.8"/>
<path d="M713.4 341.3 V375.4" stroke="#6f6f6f" stroke-width="0.8"/>
<path d="M717.1 341.7 V375.9" stroke="#6f6f6f" stroke-width="0.8"/>
<path d="M706.0 375.8 L706.0 338.6 L720.8 340.1" fill="none" stroke="#333" stroke-width="1"/>
<path d="M703.8 332.3 L703.8 338.3" stroke="#a0a0a0" stroke-width="0.8"/>
<path d="M703.8 333.3 L721.2 335.1" stroke="#cacaca" stroke-width="0.8"/>
<path d="M723.4 340.3 L738.2 341.8 L738.2 380.5 L723.4 378.3 Z" fill="#555555"/>
<path d="M727.1 342.7 V377.4" stroke="#6f6f6f" stroke-width="0.8"/>
<path d="M730.8 343.1 V377.9" stroke="#6f6f6f" stroke-width="0.8"/>
<path d="M734.5 343.5 V378.4" stroke="#6f6f6f" stroke-width="0.8"/>
<path d="M723.4 378.3 L723.4 340.3 L738.2 341.8" fill="none" stroke="#333" stroke-width="1"/>
<path d="M721.2 334.1 L721.2 340.1" stroke="#a0a0a0" stroke-width="0.8"/>
<path d="M721.2 335.1 L738.6 336.9" stroke="#cacaca" stroke-width="0.8"/>
<path d="M740.8 342.1 L755.6 343.6 L755.6 383.0 L740.8 380.8 Z" fill="#555555"/>
<path d="M744.5 344.5 V379.9" stroke="#6f6f6f" stroke-width="0.8"/>
<path d="M748.2 344.8 V380.4" stroke="#6f6f6f" stroke-width="0.8"/>
<path d="M751.9 345.2 V380.9" stroke="#6f6f6f" stroke-width="0.8"/>
<path d="M740.8 380.8 L740.8 342.1 L755.6 343.6" fill="none" stroke="#333" stroke-width="1"/>
<path d="M738.6 335.9 L738.6 341.9" stroke="#a0a0a0" stroke-width="0.8"/>
<path d="M738.6 336.9 L756.0 338.6" stroke="#cacaca" stroke-width="0.8"/>
<path d="M758.2 343.9 L773.0 345.4 L773.0 385.5 L758.2 383.4 Z" fill="#555555"/>
<path d="M761.9 346.2 V382.4" stroke="#6f6f6f" stroke-width="0.8"/>
<path d="M765.6 346.6 V382.9" stroke="#6f6f6f" stroke-width="0.8"/>
<path d="M769.3 347.0 V383.5" stroke="#6f6f6f" stroke-width="0.8"/>
<path d="M758.2 383.4 L758.2 343.9 L773.0 345.4" fill="none" stroke="#333" stroke-width="1"/>
<path d="M756.0 337.6 L756.0 343.6" stroke="#a0a0a0" stroke-width="0.8"/>
<path d="M756.0 338.6 L773.4 340.4" stroke="#cacaca" stroke-width="0.8"/>
<path d="M773.4 342.4 L782.7 342.3 L782.7 384.4 L773.4 387.1 Z" fill="#d2d2d2"/>
<path d="M667.8 320.3 L800.0 333.7 L800.0 340.7 L667.8 327.3 Z" fill="#1e1e1e"/>
<rect x="665.8" y="319.8" width="6.5" height="9" rx="2" fill="#d2ccb5"/>
<rect x="662.8" y="329.3" width="3" height="4" fill="#bfb9a2"/>
<rect x="661.3" y="353.7" width="5" height="6" rx="1.5" fill="#c9c3ac"/>
<path d="M802.4 330.7 L810.4 327.7 L811.4 366.5 L802.4 368.5 Z" fill="#cfcfcf"/>
<rect x="804.4" y="347.7" width="4" height="9" fill="#c3bda6"/>
<path d="M782.7 333.7 L802.4 332.2 L802.4 382.7 L783.7 383.7 Z" fill="#1b1b1b"/>
<path d="M783.8 367.9 L810.6 359.1 Q813.1 363.7 810.6 368.3 L783.8 377.1 Z" fill="#202020"/>
<circle cx="783.8" cy="372.5" r="4.8" fill="#2a2a2a"/>
<circle cx="783.8" cy="372.5" r="3.1" fill="#c6c1ad"/>
<circle cx="783.8" cy="372.5" r="1.7" fill="#3b3b3b"/>
<circle cx="794.3" cy="344.2" r="5" fill="#d9d3bc"/>
<circle cx="795.0999999999999" cy="345.0" r="4" fill="#c9c3ab"/>
<path d="M791.3 344.7 L797.3 343.7 M794.3 341.2 V347.2" stroke="#8a846f" stroke-width="0.9"/>
<circle cx="795.5" cy="381.4" r="5" fill="#d9d3bc"/>
<circle cx="796.3" cy="382.2" r="4" fill="#c9c3ab"/>
<path d="M792.5 381.9 L798.5 380.9 M795.5 378.4 V384.4" stroke="#8a846f" stroke-width="0.9"/>
<ellipse cx="728" cy="542" rx="90" ry="15" fill="url(#modsh)"/>
<path d="M695.6 468.4 L717.6 456.9 L809.6 466.2 L810.6 469.7 L800.6 478.7 Z" fill="#f1f1f1" stroke="#c4c4c4" stroke-width="0.6"/>
<path d="M689.6 468.8 L701.6 469.8 L706.6 463.3 L699.1 462.5 L697.1 465.1 L694.1 464.8 Z" fill="#262626"/>
<path d="M703.1 468.7 L717.1 457.7" stroke="#a9a9a9" stroke-width="0.9"/>
<path d="M705.8 470.3 L717.8 471.3 L722.8 464.8 L715.3 464.0 L713.3 466.6 L710.3 466.3 Z" fill="#262626"/>
<path d="M719.3 470.3 L733.3 459.3" stroke="#a9a9a9" stroke-width="0.9"/>
<path d="M721.9 471.9 L733.9 472.9 L738.9 466.4 L731.4 465.6 L729.4 468.2 L726.4 467.9 Z" fill="#262626"/>
<path d="M735.4 471.8 L749.4 460.8" stroke="#a9a9a9" stroke-width="0.9"/>
<path d="M738.1 473.5 L750.1 474.5 L755.1 468.0 L747.6 467.2 L745.6 469.8 L742.6 469.5 Z" fill="#262626"/>
<path d="M751.6 473.4 L765.6 462.4" stroke="#a9a9a9" stroke-width="0.9"/>
<path d="M754.3 475.1 L766.3 476.1 L771.3 469.6 L763.8 468.8 L761.8 471.4 L758.8 471.1 Z" fill="#262626"/>
<path d="M767.8 475.0 L781.8 464.0" stroke="#a9a9a9" stroke-width="0.9"/>
<path d="M770.4 476.6 L782.4 477.6 L787.4 471.1 L779.9 470.3 L777.9 472.9 L774.9 472.6 Z" fill="#262626"/>
<path d="M783.9 476.6 L797.9 465.6" stroke="#a9a9a9" stroke-width="0.9"/>
<path d="M786.6 478.2 L798.6 479.2 L803.6 472.7 L796.1 471.9 L794.1 474.5 L791.1 474.2 Z" fill="#262626"/>
<path d="M800.1 478.2 L814.1 467.2" stroke="#a9a9a9" stroke-width="0.9"/>
<path d="M673.6 471.8 L800.6 484.2 L766.9 490.9 L766.9 545.0 L676.3 532.0 L676.3 482.1 Z" fill="#dedede"/>
<path d="M678.5 483.3 L697.2 485.1 L697.2 533.5 L678.5 530.8 Z" fill="#959595"/>
<path d="M682.2 485.6 V529.8" stroke="#a8a8a8" stroke-width="0.9"/>
<path d="M686.0 486.0 V530.4" stroke="#a8a8a8" stroke-width="0.9"/>
<path d="M689.7 486.4 V530.9" stroke="#a8a8a8" stroke-width="0.9"/>
<path d="M693.5 486.7 V531.5" stroke="#a8a8a8" stroke-width="0.9"/>
<path d="M678.5 530.8 L678.5 483.3 L697.2 485.1" fill="none" stroke="#5f5f5f" stroke-width="1.1"/>
<path d="M676.3 477.1 L676.3 483.1" stroke="#a0a0a0" stroke-width="0.8"/>
<path d="M676.3 478.1 L697.6 480.1" stroke="#cacaca" stroke-width="0.8"/>
<path d="M699.8 485.4 L720.3 487.4 L720.3 536.8 L699.8 533.9 Z" fill="#959595"/>
<path d="M703.9 487.8 V532.9" stroke="#a8a8a8" stroke-width="0.9"/>
<path d="M708.0 488.2 V533.5" stroke="#a8a8a8" stroke-width="0.9"/>
<path d="M712.1 488.6 V534.1" stroke="#a8a8a8" stroke-width="0.9"/>
<path d="M716.2 489.0 V534.7" stroke="#a8a8a8" stroke-width="0.9"/>
<path d="M699.8 533.9 L699.8 485.4 L720.3 487.4" fill="none" stroke="#5f5f5f" stroke-width="1.1"/>
<path d="M697.6 479.1 L697.6 485.1" stroke="#a0a0a0" stroke-width="0.8"/>
<path d="M697.6 480.1 L720.7 482.4" stroke="#cacaca" stroke-width="0.8"/>
<path d="M722.9 487.6 L743.4 489.6 L743.4 540.1 L722.9 537.2 Z" fill="#939393"/>
<path d="M733.2 489.6 V538.1" stroke="#c6c6c6" stroke-width="1"/>
<path d="M723.9 497.0 L742.4 499.2" stroke="#c9c9c9" stroke-width="0.9"/>
<path d="M723.9 507.4 L742.4 509.8" stroke="#c9c9c9" stroke-width="0.9"/>
<path d="M723.9 517.8 L742.4 520.4" stroke="#c9c9c9" stroke-width="0.9"/>
<path d="M723.9 528.3 L742.4 531.0" stroke="#c9c9c9" stroke-width="0.9"/>
<path d="M722.9 537.2 L722.9 487.6 L743.4 489.6" fill="none" stroke="#5f5f5f" stroke-width="1.1"/>
<path d="M720.7 481.4 L720.7 487.4" stroke="#a0a0a0" stroke-width="0.8"/>
<path d="M720.7 482.4 L743.8 484.7" stroke="#cacaca" stroke-width="0.8"/>
<path d="M746.0 489.9 L766.5 491.9 L766.5 543.4 L746.0 540.5 Z" fill="#939393"/>
<path d="M756.2 491.9 V541.4" stroke="#c6c6c6" stroke-width="1"/>
<path d="M747.0 499.5 L765.5 501.7" stroke="#c9c9c9" stroke-width="0.9"/>
<path d="M747.0 510.1 L765.5 512.5" stroke="#c9c9c9" stroke-width="0.9"/>
<path d="M747.0 520.7 L765.5 523.3" stroke="#c9c9c9" stroke-width="0.9"/>
<path d="M747.0 531.3 L765.5 534.1" stroke="#c9c9c9" stroke-width="0.9"/>
<path d="M746.0 540.5 L746.0 489.9 L766.5 491.9" fill="none" stroke="#5f5f5f" stroke-width="1.1"/>
<path d="M743.8 483.7 L743.8 489.7" stroke="#a0a0a0" stroke-width="0.8"/>
<path d="M743.8 484.7 L766.9 486.9" stroke="#cacaca" stroke-width="0.8"/>
<path d="M766.9 488.9 L778.3 489.0 L778.3 542.6 L766.9 545.0 Z" fill="#d2d2d2"/>
<path d="M673.6 466.3 L800.6 478.7 L800.6 485.2 L673.6 472.8 Z" fill="#1e1e1e"/>
<rect x="671.6" y="465.8" width="6.5" height="9" rx="2" fill="#d2ccb5"/>
<rect x="668.6" y="474.8" width="3" height="4" fill="#bfb9a2"/>
<rect x="667.1" y="501.8" width="5" height="6" rx="1.5" fill="#c9c3ac"/>
<path d="M803.5 480.0 L811.5 477.0 L812.5 522.9 L803.5 524.9 Z" fill="#cfcfcf"/>
<rect x="805.5" y="497" width="4" height="9" fill="#c3bda6"/>
<path d="M778.3 483.0 L803.5 481.5 L803.5 540.2 L779.3 541.2 Z" fill="#1b1b1b"/>
<path d="M780.8 524.3 L814.4 513.2 Q816.9 517.8 814.4 522.4 L780.8 533.5 Z" fill="#202020"/>
<circle cx="780.8" cy="528.9" r="4.8" fill="#2a2a2a"/>
<circle cx="780.8" cy="528.9" r="3.1" fill="#c6c1ad"/>
<circle cx="780.8" cy="528.9" r="1.7" fill="#3b3b3b"/>
<circle cx="793.6" cy="491.3" r="5" fill="#d9d3bc"/>
<circle cx="794.4" cy="492.1" r="4" fill="#c9c3ab"/>
<path d="M790.6 491.8 L796.6 490.8 M793.6 488.3 V494.3" stroke="#8a846f" stroke-width="0.9"/>
<circle cx="796.6" cy="538.7" r="5" fill="#d9d3bc"/>
<circle cx="797.4" cy="539.5" r="4" fill="#c9c3ab"/>
<path d="M793.6 539.2 L799.6 538.2 M796.6 535.7 V541.7" stroke="#8a846f" stroke-width="0.9"/>
<ellipse cx="928" cy="542" rx="92" ry="15" fill="url(#modsh)"/>
<path d="M891.1 469.5 L913.1 458.0 L1036.7 473.5 L1037.7 477.0 L1027.7 486.0 Z" fill="#f1f1f1" stroke="#c4c4c4" stroke-width="0.6"/>
<path d="M885.1 469.8 L897.1 470.8 L902.1 464.3 L894.6 463.5 L892.6 466.1 L889.6 465.8 Z" fill="#262626"/>
<path d="M898.6 470.0 L912.6 459.0" stroke="#a9a9a9" stroke-width="0.9"/>
<path d="M906.5 472.4 L918.5 473.4 L923.5 466.9 L916.0 466.1 L914.0 468.7 L911.0 468.4 Z" fill="#262626"/>
<path d="M920.0 472.5 L934.0 461.5" stroke="#a9a9a9" stroke-width="0.9"/>
<path d="M928.0 475.0 L940.0 476.0 L945.0 469.5 L937.5 468.7 L935.5 471.3 L932.5 471.0 Z" fill="#262626"/>
<path d="M941.5 475.1 L955.5 464.1" stroke="#a9a9a9" stroke-width="0.9"/>
<path d="M949.4 477.6 L961.4 478.6 L966.4 472.1 L958.9 471.3 L956.9 473.9 L953.9 473.6 Z" fill="#262626"/>
<path d="M962.9 477.7 L976.9 466.7" stroke="#a9a9a9" stroke-width="0.9"/>
<path d="M970.8 480.1 L982.8 481.1 L987.8 474.6 L980.3 473.8 L978.3 476.4 L975.3 476.1 Z" fill="#262626"/>
<path d="M984.3 480.3 L998.3 469.3" stroke="#a9a9a9" stroke-width="0.9"/>
<path d="M992.3 482.7 L1004.3 483.7 L1009.3 477.2 L1001.8 476.4 L999.8 479.0 L996.8 478.7 Z" fill="#262626"/>
<path d="M1005.8 482.9 L1019.8 471.9" stroke="#a9a9a9" stroke-width="0.9"/>
<path d="M1013.7 485.3 L1025.7 486.3 L1030.7 479.8 L1023.2 479.0 L1021.2 481.6 L1018.2 481.3 Z" fill="#262626"/>
<path d="M1027.2 485.4 L1041.2 474.4" stroke="#a9a9a9" stroke-width="0.9"/>
<path d="M869.1 472.4 L1027.7 491.5 L994.0 496.4 L994.0 545.2 L870.0 527.9 L870.0 481.5 Z" fill="#dedede"/>
<path d="M872.2 482.8 L909.6 487.3 L909.6 531.9 L872.2 526.7 Z" fill="#8a8a8a"/>
<path d="M890.9 486.0 V528.8" stroke="#c6c6c6" stroke-width="1.2"/>
<path d="M873.2 500.3 L908.6 505.1" stroke="#c9c9c9" stroke-width="1.1"/>
<path d="M873.2 514.2 L908.6 519.3" stroke="#c9c9c9" stroke-width="1.1"/>
<path d="M872.2 526.7 L872.2 482.8 L909.6 487.3" fill="none" stroke="#5f5f5f" stroke-width="1.1"/>
<path d="M870.0 476.5 L870.0 482.5" stroke="#a0a0a0" stroke-width="0.8"/>
<path d="M870.0 477.5 L910.0 482.3" stroke="#cacaca" stroke-width="0.8"/>
<path d="M913.2 487.7 L930.6 489.8 L930.6 534.8 L913.2 532.4 Z" fill="#939393"/>
<path d="M921.9 489.8 V533.1" stroke="#c6c6c6" stroke-width="1"/>
<path d="M914.2 496.2 L929.6 498.3" stroke="#c9c9c9" stroke-width="0.9"/>
<path d="M914.2 505.6 L929.6 507.8" stroke="#c9c9c9" stroke-width="0.9"/>
<path d="M914.2 515.0 L929.6 517.3" stroke="#c9c9c9" stroke-width="0.9"/>
<path d="M914.2 524.5 L929.6 526.8" stroke="#c9c9c9" stroke-width="0.9"/>
<path d="M913.2 532.4 L913.2 487.7 L930.6 489.8" fill="none" stroke="#5f5f5f" stroke-width="1.1"/>
<path d="M911.0 481.4 L911.0 487.4" stroke="#a0a0a0" stroke-width="0.8"/>
<path d="M911.0 482.4 L931.0 484.9" stroke="#cacaca" stroke-width="0.8"/>
<path d="M934.2 490.2 L951.6 492.3 L951.6 537.8 L934.2 535.3 Z" fill="#939393"/>
<path d="M942.9 492.3 V536.1" stroke="#c6c6c6" stroke-width="1"/>
<path d="M935.2 498.8 L950.6 500.9" stroke="#c9c9c9" stroke-width="0.9"/>
<path d="M935.2 508.3 L950.6 510.5" stroke="#c9c9c9" stroke-width="0.9"/>
<path d="M935.2 517.8 L950.6 520.1" stroke="#c9c9c9" stroke-width="0.9"/>
<path d="M935.2 527.3 L950.6 529.7" stroke="#c9c9c9" stroke-width="0.9"/>
<path d="M934.2 535.3 L934.2 490.2 L951.6 492.3" fill="none" stroke="#5f5f5f" stroke-width="1.1"/>
<path d="M932.0 484.0 L932.0 490.0" stroke="#a0a0a0" stroke-width="0.8"/>
<path d="M932.0 485.0 L952.0 487.4" stroke="#cacaca" stroke-width="0.8"/>
<path d="M955.2 492.8 L970.6 494.6 L970.6 540.4 L955.2 538.3 Z" fill="#959595"/>
<path d="M958.3 495.1 V537.2" stroke="#a8a8a8" stroke-width="0.9"/>
<path d="M961.4 495.5 V537.7" stroke="#a8a8a8" stroke-width="0.9"/>
<path d="M964.4 495.9 V538.1" stroke="#a8a8a8" stroke-width="0.9"/>
<path d="M967.5 496.3 V538.5" stroke="#a8a8a8" stroke-width="0.9"/>
<path d="M955.2 538.3 L955.2 492.8 L970.6 494.6" fill="none" stroke="#5f5f5f" stroke-width="1.1"/>
<path d="M953.0 486.5 L953.0 492.5" stroke="#a0a0a0" stroke-width="0.8"/>
<path d="M953.0 487.5 L971.0 489.7" stroke="#cacaca" stroke-width="0.8"/>
<path d="M974.2 495.1 L993.6 497.4 L993.6 543.7 L974.2 540.9 Z" fill="#959595"/>
<path d="M978.1 497.5 V540.0" stroke="#a8a8a8" stroke-width="0.9"/>
<path d="M982.0 498.0 V540.5" stroke="#a8a8a8" stroke-width="0.9"/>
<path d="M985.8 498.5 V541.1" stroke="#a8a8a8" stroke-width="0.9"/>
<path d="M989.7 498.9 V541.6" stroke="#a8a8a8" stroke-width="0.9"/>
<path d="M974.2 540.9 L974.2 495.1 L993.6 497.4" fill="none" stroke="#5f5f5f" stroke-width="1.1"/>
<path d="M972.0 488.8 L972.0 494.8" stroke="#a0a0a0" stroke-width="0.8"/>
<path d="M972.0 489.8 L994.0 492.4" stroke="#cacaca" stroke-width="0.8"/>
<path d="M994.0 494.4 L1003.0 494.5 L1003.0 542.5 L994.0 545.2 Z" fill="#d2d2d2"/>
<path d="M869.1 466.9 L1027.7 486.0 L1027.7 492.5 L869.1 473.4 Z" fill="#1e1e1e"/>
<rect x="867.1" y="466.4" width="6.5" height="9" rx="2" fill="#d2ccb5"/>
<rect x="864.1" y="475.4" width="3" height="4" fill="#bfb9a2"/>
<rect x="862.6" y="501.4" width="5" height="6" rx="1.5" fill="#c9c3ac"/>
<path d="M1028.6 481.0 L1036.6 478.0 L1037.6 522.8 L1028.6 524.8 Z" fill="#cfcfcf"/>
<rect x="1030.6" y="498" width="4" height="9" fill="#c3bda6"/>
<path d="M1003.0 484.0 L1028.6 482.5 L1028.6 542.0 L1004.0 543.0 Z" fill="#1b1b1b"/>
<path d="M1005.8 524.2 L1035.9 514.3 Q1038.4 518.9 1035.9 523.5 L1005.8 533.4 Z" fill="#202020"/>
<circle cx="1005.8" cy="528.8" r="4.8" fill="#2a2a2a"/>
<circle cx="1005.8" cy="528.8" r="3.1" fill="#c6c1ad"/>
<circle cx="1005.8" cy="528.8" r="1.7" fill="#3b3b3b"/>
<circle cx="1016.8" cy="494.2" r="5" fill="#d9d3bc"/>
<circle cx="1017.5999999999999" cy="495.0" r="4" fill="#c9c3ab"/>
<path d="M1013.8 494.7 L1019.8 493.7 M1016.8 491.2 V497.2" stroke="#8a846f" stroke-width="0.9"/>
<circle cx="1019.5" cy="538" r="5" fill="#d9d3bc"/>
<circle cx="1020.3" cy="538.8" r="4" fill="#c9c3ab"/>
<path d="M1016.5 538.5 L1022.5 537.5 M1019.5 535 V541" stroke="#8a846f" stroke-width="0.9"/>
<ellipse cx="728" cy="700" rx="90" ry="15" fill="url(#modsh)"/>
<path d="M691.5 630.7 L713.5 619.2 L834.8 631.9 L835.8 635.4 L825.8 644.4 Z" fill="#f1f1f1" stroke="#c4c4c4" stroke-width="0.6"/>
<path d="M685.5 630.9 L697.5 631.9 L702.5 625.4 L695.0 624.6 L693.0 627.2 L690.0 626.9 Z" fill="#262626"/>
<path d="M699.0 630.9 L713.0 619.9" stroke="#a9a9a9" stroke-width="0.9"/>
<path d="M706.5 633.1 L718.5 634.1 L723.5 627.6 L716.0 626.8 L714.0 629.4 L711.0 629.1 Z" fill="#262626"/>
<path d="M720.0 633.1 L734.0 622.1" stroke="#a9a9a9" stroke-width="0.9"/>
<path d="M727.6 635.3 L739.6 636.3 L744.6 629.8 L737.1 629.0 L735.1 631.6 L732.1 631.3 Z" fill="#262626"/>
<path d="M741.1 635.2 L755.1 624.2" stroke="#a9a9a9" stroke-width="0.9"/>
<path d="M748.6 637.4 L760.6 638.4 L765.6 631.9 L758.1 631.1 L756.1 633.7 L753.1 633.4 Z" fill="#262626"/>
<path d="M762.1 637.4 L776.1 626.4" stroke="#a9a9a9" stroke-width="0.9"/>
<path d="M769.7 639.6 L781.7 640.6 L786.7 634.1 L779.2 633.3 L777.2 635.9 L774.2 635.6 Z" fill="#262626"/>
<path d="M783.2 639.5 L797.2 628.5" stroke="#a9a9a9" stroke-width="0.9"/>
<path d="M790.8 641.7 L802.8 642.7 L807.8 636.2 L800.2 635.4 L798.2 638.0 L795.2 637.7 Z" fill="#262626"/>
<path d="M804.2 641.7 L818.2 630.7" stroke="#a9a9a9" stroke-width="0.9"/>
<path d="M811.8 643.9 L823.8 644.9 L828.8 638.4 L821.3 637.6 L819.3 640.2 L816.3 639.9 Z" fill="#262626"/>
<path d="M825.3 643.8 L839.3 632.8" stroke="#a9a9a9" stroke-width="0.9"/>
<path d="M669.5 633.9 L825.8 649.9 L767.2 652.6 L767.2 701.2 L669.5 686.7 L669.5 642.6 Z" fill="#dedede"/>
<path d="M671.7 643.8 L688.1 645.5 L688.1 688.0 L671.7 685.6 Z" fill="#959595"/>
<path d="M675.0 646.2 V684.5" stroke="#a8a8a8" stroke-width="0.9"/>
<path d="M678.3 646.5 V685.0" stroke="#a8a8a8" stroke-width="0.9"/>
<path d="M681.5 646.8 V685.5" stroke="#a8a8a8" stroke-width="0.9"/>
<path d="M684.8 647.2 V686.0" stroke="#a8a8a8" stroke-width="0.9"/>
<path d="M671.7 685.6 L671.7 643.8 L688.1 645.5" fill="none" stroke="#5f5f5f" stroke-width="1.1"/>
<path d="M669.5 637.6 L669.5 643.6" stroke="#a0a0a0" stroke-width="0.8"/>
<path d="M669.5 638.6 L688.5 640.5" stroke="#cacaca" stroke-width="0.8"/>
<path d="M690.7 645.8 L708.6 647.6 L708.6 691.0 L690.7 688.4 Z" fill="#959595"/>
<path d="M694.3 648.1 V687.4" stroke="#a8a8a8" stroke-width="0.9"/>
<path d="M697.9 648.5 V687.9" stroke="#a8a8a8" stroke-width="0.9"/>
<path d="M701.4 648.9 V688.5" stroke="#a8a8a8" stroke-width="0.9"/>
<path d="M705.0 649.2 V689.0" stroke="#a8a8a8" stroke-width="0.9"/>
<path d="M690.7 688.4 L690.7 645.8 L708.6 647.6" fill="none" stroke="#5f5f5f" stroke-width="1.1"/>
<path d="M688.5 639.5 L688.5 645.5" stroke="#a0a0a0" stroke-width="0.8"/>
<path d="M688.5 640.5 L709.0 642.6" stroke="#cacaca" stroke-width="0.8"/>
<path d="M711.2 647.9 L729.1 649.7 L729.1 694.1 L711.2 691.4 Z" fill="#939393"/>
<path d="M720.2 649.8 V692.2" stroke="#c6c6c6" stroke-width="1"/>
<path d="M712.2 656.1 L728.1 658.1" stroke="#c9c9c9" stroke-width="0.9"/>
<path d="M712.2 665.3 L728.1 667.4" stroke="#c9c9c9" stroke-width="0.9"/>
<path d="M712.2 674.5 L728.1 676.8" stroke="#c9c9c9" stroke-width="0.9"/>
<path d="M712.2 683.7 L728.1 686.2" stroke="#c9c9c9" stroke-width="0.9"/>
<path d="M711.2 691.4 L711.2 647.9 L729.1 649.7" fill="none" stroke="#5f5f5f" stroke-width="1.1"/>
<path d="M709.0 641.6 L709.0 647.6" stroke="#a0a0a0" stroke-width="0.8"/>
<path d="M709.0 642.6 L729.5 644.7" stroke="#cacaca" stroke-width="0.8"/>
<path d="M731.7 650.0 L747.6 651.6 L747.6 696.8 L731.7 694.4 Z" fill="#939393"/>
<path d="M739.7 651.8 V695.1" stroke="#c6c6c6" stroke-width="1"/>
<path d="M732.7 658.4 L746.6 660.1" stroke="#c9c9c9" stroke-width="0.9"/>
<path d="M732.7 667.8 L746.6 669.7" stroke="#c9c9c9" stroke-width="0.9"/>
<path d="M732.7 677.2 L746.6 679.2" stroke="#c9c9c9" stroke-width="0.9"/>
<path d="M732.7 686.5 L746.6 688.8" stroke="#c9c9c9" stroke-width="0.9"/>
<path d="M731.7 694.4 L731.7 650.0 L747.6 651.6" fill="none" stroke="#5f5f5f" stroke-width="1.1"/>
<path d="M729.5 643.7 L729.5 649.7" stroke="#a0a0a0" stroke-width="0.8"/>
<path d="M729.5 644.7 L748.0 646.6" stroke="#cacaca" stroke-width="0.8"/>
<path d="M750.2 651.9 L766.8 653.6 L766.8 699.6 L750.2 697.2 Z" fill="#959595"/>
<path d="M753.5 654.2 V696.2" stroke="#a8a8a8" stroke-width="0.9"/>
<path d="M756.8 654.5 V696.7" stroke="#a8a8a8" stroke-width="0.9"/>
<path d="M760.2 654.9 V697.2" stroke="#a8a8a8" stroke-width="0.9"/>
<path d="M763.5 655.2 V697.6" stroke="#a8a8a8" stroke-width="0.9"/>
<path d="M750.2 697.2 L750.2 651.9 L766.8 653.6" fill="none" stroke="#5f5f5f" stroke-width="1.1"/>
<path d="M748.0 645.6 L748.0 651.6" stroke="#a0a0a0" stroke-width="0.8"/>
<path d="M748.0 646.6 L767.2 648.6" stroke="#cacaca" stroke-width="0.8"/>
<path d="M767.2 650.6 L801.0 653.1 L801.0 702.2 L767.2 701.2 Z" fill="#d2d2d2"/>
<path d="M777.8 654 L801 657 L801 697 L777.8 698 Z" fill="#6c6c6c"/>
<path d="M780 662 L792 663.5 L792 689 L780 688 Z" fill="#3a3a3a"/>
<path d="M782 666 L790 667 L790 686 L782 685 Z" fill="#6a6a6a"/>
<circle cx="789" cy="657.5" r="3.5" fill="#cfc9b2"/>
<circle cx="787" cy="695" r="3.3" fill="#c6c0a9"/>
<path d="M669.5 628.4 L825.8 644.4 L825.8 650.9 L669.5 634.9 Z" fill="#1e1e1e"/>
<rect x="667.5" y="627.9" width="6.5" height="9" rx="2" fill="#d2ccb5"/>
<rect x="664.5" y="636.9" width="3" height="4" fill="#bfb9a2"/>
<rect x="663.0" y="662.6" width="5" height="6" rx="1.5" fill="#c9c3ac"/>
<path d="M825.8 643.0 L833.8 640.0 L834.8 681.0 L825.8 683.0 Z" fill="#cfcfcf"/>
<rect x="827.8" y="660" width="4" height="9" fill="#c3bda6"/>
<path d="M801.0 646.0 L825.8 644.5 L825.8 701.0 L802.0 702.0 Z" fill="#1b1b1b"/>
<path d="M799.1 682.4 L827.6 673.0 Q830.1 677.6 827.6 682.2 L799.1 691.6 Z" fill="#202020"/>
<circle cx="799.1" cy="687" r="4.8" fill="#2a2a2a"/>
<circle cx="799.1" cy="687" r="3.1" fill="#c6c1ad"/>
<circle cx="799.1" cy="687" r="1.7" fill="#3b3b3b"/>
<circle cx="810.7" cy="655" r="5" fill="#d9d3bc"/>
<circle cx="811.5" cy="655.8" r="4" fill="#c9c3ab"/>
<path d="M807.7 655.5 L813.7 654.5 M810.7 652 V658" stroke="#8a846f" stroke-width="0.9"/>
<circle cx="812.5" cy="696.8" r="5" fill="#d9d3bc"/>
<circle cx="813.3" cy="697.5999999999999" r="4" fill="#c9c3ab"/>
<path d="M809.5 697.3 L815.5 696.3 M812.5 693.8 V699.8" stroke="#8a846f" stroke-width="0.9"/>
<ellipse cx="928" cy="702" rx="92" ry="15" fill="url(#modsh)"/>
<path d="M892.6 631.8 L914.6 620.3 L1031.0 636.1 L1032.0 639.6 L1022.0 648.6 Z" fill="#f1f1f1" stroke="#c4c4c4" stroke-width="0.6"/>
<path d="M886.6 632.1 L898.6 633.1 L903.6 626.6 L896.1 625.8 L894.1 628.4 L891.1 628.1 Z" fill="#262626"/>
<path d="M900.1 632.3 L914.1 621.3" stroke="#a9a9a9" stroke-width="0.9"/>
<path d="M906.8 634.7 L918.8 635.7 L923.8 629.2 L916.3 628.4 L914.3 631.0 L911.3 630.7 Z" fill="#262626"/>
<path d="M920.3 634.9 L934.3 623.9" stroke="#a9a9a9" stroke-width="0.9"/>
<path d="M927.1 637.3 L939.1 638.3 L944.1 631.8 L936.6 631.0 L934.6 633.6 L931.6 633.3 Z" fill="#262626"/>
<path d="M940.6 637.6 L954.6 626.6" stroke="#a9a9a9" stroke-width="0.9"/>
<path d="M947.3 639.9 L959.3 640.9 L964.3 634.4 L956.8 633.6 L954.8 636.2 L951.8 635.9 Z" fill="#262626"/>
<path d="M960.8 640.2 L974.8 629.2" stroke="#a9a9a9" stroke-width="0.9"/>
<path d="M967.5 642.6 L979.5 643.6 L984.5 637.1 L977.0 636.3 L975.0 638.9 L972.0 638.6 Z" fill="#262626"/>
<path d="M981.0 642.8 L995.0 631.8" stroke="#a9a9a9" stroke-width="0.9"/>
<path d="M987.8 645.2 L999.8 646.2 L1004.8 639.7 L997.3 638.9 L995.3 641.5 L992.3 641.2 Z" fill="#262626"/>
<path d="M1001.3 645.4 L1015.3 634.4" stroke="#a9a9a9" stroke-width="0.9"/>
<path d="M1008.0 647.8 L1020.0 648.8 L1025.0 642.3 L1017.5 641.5 L1015.5 644.1 L1012.5 643.8 Z" fill="#262626"/>
<path d="M1021.5 648.0 L1035.5 637.0" stroke="#a9a9a9" stroke-width="0.9"/>
<path d="M870.6 634.5 L1022.0 654.1 L930.4 649.7 L930.4 695.3 L870.6 687.9 L870.6 642.0 Z" fill="#dedede"/>
<path d="M872.8 643.3 L889.8 645.5 L889.8 688.8 L872.8 686.7 Z" fill="#959595"/>
<path d="M876.2 645.7 V685.6" stroke="#a8a8a8" stroke-width="0.9"/>
<path d="M879.6 646.2 V686.0" stroke="#a8a8a8" stroke-width="0.9"/>
<path d="M883.0 646.6 V686.4" stroke="#a8a8a8" stroke-width="0.9"/>
<path d="M886.4 647.0 V686.8" stroke="#a8a8a8" stroke-width="0.9"/>
<path d="M872.8 686.7 L872.8 643.3 L889.8 645.5" fill="none" stroke="#5f5f5f" stroke-width="1.1"/>
<path d="M870.6 637.0 L870.6 643.0" stroke="#a0a0a0" stroke-width="0.8"/>
<path d="M870.6 638.0 L890.2 640.5" stroke="#cacaca" stroke-width="0.8"/>
<path d="M892.4 645.8 L910.1 648.1 L910.1 691.3 L892.4 689.1 Z" fill="#959595"/>
<path d="M895.9 648.3 V688.0" stroke="#a8a8a8" stroke-width="0.9"/>
<path d="M899.5 648.7 V688.5" stroke="#a8a8a8" stroke-width="0.9"/>
<path d="M903.0 649.2 V688.9" stroke="#a8a8a8" stroke-width="0.9"/>
<path d="M906.6 649.7 V689.3" stroke="#a8a8a8" stroke-width="0.9"/>
<path d="M892.4 689.1 L892.4 645.8 L910.1 648.1" fill="none" stroke="#5f5f5f" stroke-width="1.1"/>
<path d="M890.2 639.5 L890.2 645.5" stroke="#a0a0a0" stroke-width="0.8"/>
<path d="M890.2 640.5 L910.5 643.2" stroke="#cacaca" stroke-width="0.8"/>
<path d="M912.7 648.5 L930.0 650.7 L930.0 693.8 L912.7 691.6 Z" fill="#959595"/>
<path d="M916.2 650.9 V690.5" stroke="#a8a8a8" stroke-width="0.9"/>
<path d="M919.6 651.3 V691.0" stroke="#a8a8a8" stroke-width="0.9"/>
<path d="M923.1 651.8 V691.4" stroke="#a8a8a8" stroke-width="0.9"/>
<path d="M926.5 652.2 V691.8" stroke="#a8a8a8" stroke-width="0.9"/>
<path d="M912.7 691.6 L912.7 648.5 L930.0 650.7" fill="none" stroke="#5f5f5f" stroke-width="1.1"/>
<path d="M910.5 642.2 L910.5 648.2" stroke="#a0a0a0" stroke-width="0.8"/>
<path d="M910.5 643.2 L930.4 645.7" stroke="#cacaca" stroke-width="0.8"/>
<path d="M930.4 647.7 L1005.0 656.4 L1005.0 700.6 L930.4 695.3 Z" fill="#d2d2d2"/>
<path d="M968 630 Q980 620 1000 623 L1036 631 L1037 650 L1003 653 L960 646 Z" fill="#8a8a8a"/>
<ellipse cx="975" cy="628" rx="5" ry="2.5" fill="#5c5c5c"/>
<ellipse cx="992" cy="631" rx="5" ry="2.5" fill="#5c5c5c"/>
<ellipse cx="1010" cy="634" rx="5" ry="2.5" fill="#5c5c5c"/>
<ellipse cx="1026" cy="637" rx="5" ry="2.5" fill="#5c5c5c"/>
<path d="M929 648 L1004 655 L1004 700 L985 704 L935 697 Z" fill="#707070"/>
<path d="M926.2 656.0 L936.2 648.0 L947.2 650.0 L938.2 662.0 Z" fill="#858585"/>
<path d="M945.9 658.7 L955.9 650.7 L966.9 652.7 L957.9 664.7 Z" fill="#858585"/>
<path d="M966.4 660.6 L976.4 652.6 L987.4 654.6 L978.4 666.6 Z" fill="#858585"/>
<path d="M935.6 667.2 L945.6 659.2 L956.6 661.2 L947.6 673.2 Z" fill="#858585"/>
<path d="M955.2 670.0 L965.2 662.0 L976.2 664.0 L967.2 676.0 Z" fill="#858585"/>
<path d="M974.8 672.8 L984.8 664.8 L995.8 666.8 L986.8 678.8 Z" fill="#858585"/>
<path d="M928.1 677.4 L938.1 669.4 L949.1 671.4 L940.1 683.4 Z" fill="#858585"/>
<path d="M947.7 680.2 L957.7 672.2 L968.7 674.2 L959.7 686.2 Z" fill="#858585"/>
<path d="M968.3 682.1 L978.3 674.1 L989.3 676.1 L980.3 688.1 Z" fill="#858585"/>
<path d="M937.5 689.6 L947.5 681.6 L958.5 683.6 L949.5 695.6 Z" fill="#858585"/>
<path d="M956.1 693.3 L966.1 685.3 L977.1 687.3 L968.1 699.3 Z" fill="#858585"/>
<path d="M975.8 695.2 L985.8 687.2 L996.8 689.2 L987.8 701.2 Z" fill="#858585"/>
<ellipse cx="932.2" cy="658" rx="7" ry="6" fill="#959595" stroke="#5e5e5e" stroke-width="0.9"/>
<ellipse cx="931.9000000000001" cy="658.3" rx="4.3" ry="3.7" fill="#525252"/>
<ellipse cx="951.9" cy="660.7" rx="7" ry="6" fill="#959595" stroke="#5e5e5e" stroke-width="0.9"/>
<ellipse cx="951.6" cy="661.0" rx="4.3" ry="3.7" fill="#525252"/>
<ellipse cx="972.4" cy="662.6" rx="7" ry="6" fill="#959595" stroke="#5e5e5e" stroke-width="0.9"/>
<ellipse cx="972.1" cy="662.9" rx="4.3" ry="3.7" fill="#525252"/>
<ellipse cx="941.6" cy="669.2" rx="7" ry="6" fill="#959595" stroke="#5e5e5e" stroke-width="0.9"/>
<ellipse cx="941.3000000000001" cy="669.5" rx="4.3" ry="3.7" fill="#525252"/>
<ellipse cx="961.2" cy="672" rx="7" ry="6" fill="#959595" stroke="#5e5e5e" stroke-width="0.9"/>
<ellipse cx="960.9000000000001" cy="672.3" rx="4.3" ry="3.7" fill="#525252"/>
<ellipse cx="980.8" cy="674.8" rx="7" ry="6" fill="#959595" stroke="#5e5e5e" stroke-width="0.9"/>
<ellipse cx="980.5" cy="675.0999999999999" rx="4.3" ry="3.7" fill="#525252"/>
<ellipse cx="934.1" cy="679.4" rx="7" ry="6" fill="#959595" stroke="#5e5e5e" stroke-width="0.9"/>
<ellipse cx="933.8000000000001" cy="679.6999999999999" rx="4.3" ry="3.7" fill="#525252"/>
<ellipse cx="953.7" cy="682.2" rx="7" ry="6" fill="#959595" stroke="#5e5e5e" stroke-width="0.9"/>
<ellipse cx="953.4000000000001" cy="682.5" rx="4.3" ry="3.7" fill="#525252"/>
<ellipse cx="974.3" cy="684.1" rx="7" ry="6" fill="#959595" stroke="#5e5e5e" stroke-width="0.9"/>
<ellipse cx="974.0" cy="684.4" rx="4.3" ry="3.7" fill="#525252"/>
<ellipse cx="943.5" cy="691.6" rx="7" ry="6" fill="#959595" stroke="#5e5e5e" stroke-width="0.9"/>
<ellipse cx="943.2" cy="691.9" rx="4.3" ry="3.7" fill="#525252"/>
<ellipse cx="962.1" cy="695.3" rx="7" ry="6" fill="#959595" stroke="#5e5e5e" stroke-width="0.9"/>
<ellipse cx="961.8000000000001" cy="695.5999999999999" rx="4.3" ry="3.7" fill="#525252"/>
<ellipse cx="981.8" cy="697.2" rx="7" ry="6" fill="#959595" stroke="#5e5e5e" stroke-width="0.9"/>
<ellipse cx="981.5" cy="697.5" rx="4.3" ry="3.7" fill="#525252"/>
<path d="M870.6 629.0 L1022.0 648.6 L1022.0 655.1 L870.6 635.5 Z" fill="#1e1e1e"/>
<rect x="868.6" y="628.5" width="6.5" height="9" rx="2" fill="#d2ccb5"/>
<rect x="865.6" y="637.5" width="3" height="4" fill="#bfb9a2"/>
<rect x="864.1" y="662.0" width="5" height="6" rx="1.5" fill="#c9c3ac"/>
<path d="M1030.0 649.0 L1038.0 646.0 L1039.0 681.9 L1030.0 683.9 Z" fill="#cfcfcf"/>
<rect x="1032" y="666" width="4" height="9" fill="#c3bda6"/>
<path d="M1005.0 652.0 L1030.0 650.5 L1030.0 703.0 L1006.0 704.0 Z" fill="#1b1b1b"/>
<path d="M1003.3 683.3 L1037.0 672.2 Q1039.5 676.8 1037.0 681.4 L1003.3 692.5 Z" fill="#202020"/>
<circle cx="1003.3" cy="687.9" r="4.8" fill="#2a2a2a"/>
<circle cx="1003.3" cy="687.9" r="3.1" fill="#c6c1ad"/>
<circle cx="1003.3" cy="687.9" r="1.7" fill="#3b3b3b"/>
<circle cx="1014.5" cy="654.2" r="5" fill="#d9d3bc"/>
<circle cx="1015.3" cy="655.0" r="4" fill="#c9c3ab"/>
<path d="M1011.5 654.7 L1017.5 653.7 M1014.5 651.2 V657.2" stroke="#8a846f" stroke-width="0.9"/>
<circle cx="1016.4" cy="697.2" r="5" fill="#d9d3bc"/>
<circle cx="1017.1999999999999" cy="698.0" r="4" fill="#c9c3ab"/>
<path d="M1013.4 697.7 L1019.4 696.7 M1016.4 694.2 V700.2" stroke="#8a846f" stroke-width="0.9"/>
</g>

<!-- text -->
<g class="t">
<text x="468.4" y="101" textLength="211.2" lengthAdjust="spacing">Suitable for IP 20, IP 65 and</text>
<text x="468.9" y="123.5" textLength="247.7" lengthAdjust="spacing">IP 68/IP69K hoods and housings</text>
<text x="468.4" y="216.8" textLength="368.7" lengthAdjust="spacing">One contact family for wire-to-board and heavy-</text>
<text x="468.4" y="235.5" textLength="246.2" lengthAdjust="spacing">duty cable-to-cable connections</text>
<text x="468.4" y="329.8" textLength="134.2" lengthAdjust="spacing">3- 48 box-shaped</text>
<text x="468.4" y="348.6" textLength="117.2" lengthAdjust="spacing">contacts in one</text>
<text x="468.4" y="367.6" textLength="119.7" lengthAdjust="spacing">module, up to 6</text>
<text x="468.4" y="386.6" textLength="176.7" lengthAdjust="spacing">modules per connector</text>
<text x="468.4" y="480.7" textLength="119.7" lengthAdjust="spacing">Allows different</text>
<text x="468.4" y="499.7" textLength="98.2" lengthAdjust="spacing">power, signal</text>
<text x="468.4" y="518.6" textLength="131.2" lengthAdjust="spacing">and data using in</text>
<text x="468.4" y="537.5" textLength="117.2" lengthAdjust="spacing">various module</text>
<text x="468.4" y="631" textLength="143.7" lengthAdjust="spacing">Option to combine</text>
<text x="468.4" y="649.8" textLength="113.2" lengthAdjust="spacing">the inserts and</text>
<text x="468.4" y="668.8" textLength="154.2" lengthAdjust="spacing">dynamic connectors</text>
<text x="468.4" y="688.3" textLength="128.7" lengthAdjust="spacing">with classic HMN</text>
<text x="468.4" y="707.2" textLength="146.7" lengthAdjust="spacing">module connectors</text>
<text x="468.4" y="800.3" textLength="421.7" lengthAdjust="spacing">Key-in plug is offered separately to prevent mis-mating,</text>
<text x="468.4" y="822.9" textLength="297.2" lengthAdjust="spacing">used on inserts of HDC Dynamic series.</text>
</g>
</svg>
</body></html>
